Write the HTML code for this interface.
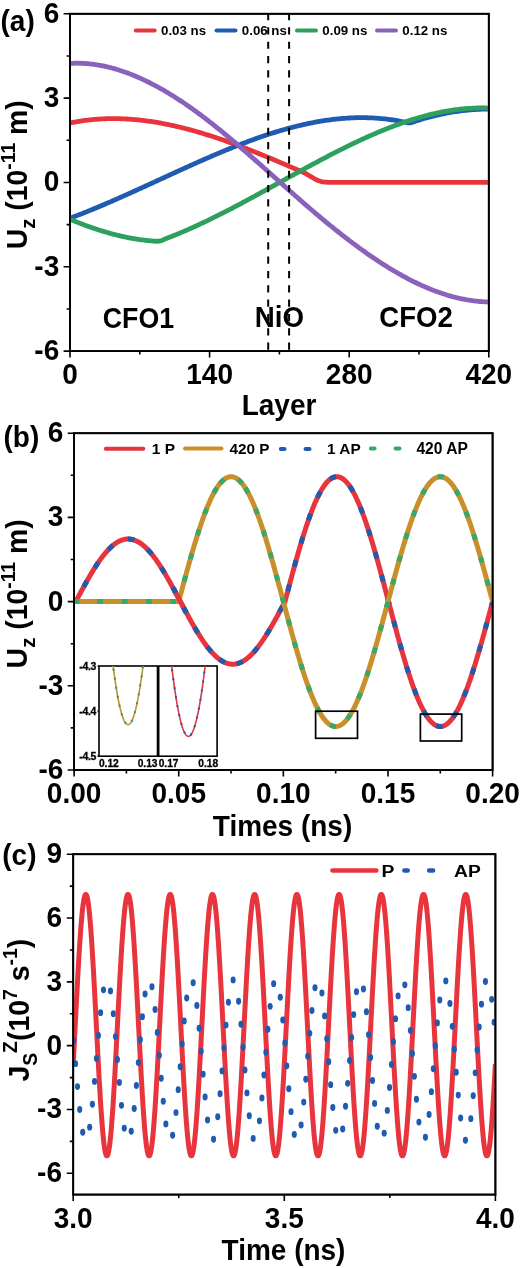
<!DOCTYPE html>
<html><head><meta charset="utf-8"><title>Figure</title>
<style>html,body{margin:0;padding:0;background:#fff;width:520px;height:1268px;overflow:hidden} svg{display:block}</style>
</head><body>
<svg width="520" height="1268" viewBox="0 0 520 1268" font-family="'Liberation Sans', sans-serif" font-weight="bold">
<rect width="520" height="1268" fill="#fff"/>
<rect x="70" y="13.8" width="418.8" height="337.3" fill="none" stroke="#000" stroke-width="1.8"/>
<path d="M70,351.1v6.4M209.6,351.1v6.4M349.2,351.1v6.4M488.8,351.1v6.4M139.8,351.1v3.4M279.4,351.1v3.4M419,351.1v3.4M70,351.1h-6.4M70,266.78h-6.4M70,182.45h-6.4M70,98.13h-6.4M70,13.8h-6.4M70,308.94h-3.4M70,224.61h-3.4M70,140.29h-3.4M70,55.96h-3.4" stroke="#000" stroke-width="1.6" fill="none"/>
<text transform="translate(59.2,360) scale(1.0,1.08)" font-size="28" text-anchor="end" >-6</text>
<text transform="translate(59.2,275.68) scale(1.0,1.08)" font-size="28" text-anchor="end" >-3</text>
<text transform="translate(59.2,191.35) scale(1.0,1.08)" font-size="28" text-anchor="end" >0</text>
<text transform="translate(59.2,107.03) scale(1.0,1.08)" font-size="28" text-anchor="end" >3</text>
<text transform="translate(59.2,22.7) scale(1.0,1.08)" font-size="28" text-anchor="end" >6</text>
<text transform="translate(70,384.2) scale(1.0,1.08)" font-size="28" text-anchor="middle" >0</text>
<text transform="translate(209.6,384.2) scale(1.0,1.08)" font-size="28" text-anchor="middle" >140</text>
<text transform="translate(349.2,384.2) scale(1.0,1.08)" font-size="28" text-anchor="middle" >280</text>
<text transform="translate(488.8,384.2) scale(1.0,1.08)" font-size="28" text-anchor="middle" >420</text>
<text transform="translate(279,415) scale(1.0,1.06)" font-size="28" text-anchor="middle" >Layer</text>
<text transform="translate(0.5,30.6) scale(1.0,1.04)" font-size="28" text-anchor="start" >(a)</text>
<text transform="translate(102.8,328.4) scale(0.955,1.075)" font-size="28" text-anchor="start" >CFO1</text>
<text transform="translate(254.7,327) scale(0.99,1.065)" font-size="28" text-anchor="start" >NiO</text>
<text transform="translate(379.3,326.9) scale(0.985,1.05)" font-size="28" text-anchor="start" >CFO2</text>
<text transform="translate(27.2,249.3) rotate(-90) scale(1.015,1.05)" font-size="28">U<tspan font-size="20" dy="7.8">z</tspan><tspan dy="-7.8"> (10</tspan><tspan font-size="19" dy="-11.8">-11</tspan><tspan dy="11.8"> m)</tspan></text>
<g clip-path="url(#clipA)">
<path d="M70,123.01 L71.49,122.7 L72.99,122.41 L74.48,122.13 L75.98,121.86 L77.47,121.6 L78.96,121.35 L80.46,121.11 L81.95,120.89 L83.44,120.67 L84.94,120.47 L86.43,120.28 L87.93,120.1 L89.42,119.93 L90.91,119.77 L92.41,119.62 L93.9,119.48 L95.4,119.36 L96.89,119.24 L98.38,119.14 L99.88,119.04 L101.37,118.96 L102.86,118.88 L104.36,118.82 L105.85,118.76 L107.35,118.72 L108.84,118.68 L110.33,118.66 L111.83,118.64 L113.32,118.64 L114.81,118.64 L116.31,118.66 L117.8,118.68 L119.3,118.72 L120.79,118.76 L122.28,118.81 L123.78,118.87 L125.27,118.94 L126.77,119.02 L128.26,119.11 L129.75,119.21 L131.25,119.32 L132.74,119.43 L134.23,119.56 L135.73,119.69 L137.22,119.83 L138.72,119.98 L140.21,120.14 L141.7,120.31 L143.2,120.48 L144.69,120.67 L146.19,120.86 L147.68,121.06 L149.17,121.27 L150.67,121.48 L152.16,121.71 L153.65,121.94 L155.15,122.18 L156.64,122.43 L158.14,122.68 L159.63,122.94 L161.12,123.21 L162.62,123.49 L164.11,123.77 L165.6,124.07 L167.1,124.36 L168.59,124.67 L170.09,124.98 L171.58,125.3 L173.07,125.63 L174.57,125.96 L176.06,126.3 L177.56,126.65 L179.05,127.01 L180.54,127.37 L182.04,127.73 L183.53,128.11 L185.02,128.49 L186.52,128.87 L188.01,129.26 L189.51,129.66 L191,130.06 L192.49,130.47 L193.99,130.89 L195.48,131.31 L196.98,131.74 L198.47,132.17 L199.96,132.61 L201.46,133.06 L202.95,133.5 L204.44,133.96 L205.94,134.42 L207.43,134.89 L208.93,135.36 L210.42,135.83 L211.91,136.31 L213.41,136.8 L214.9,137.29 L216.4,137.78 L217.89,138.28 L219.38,138.79 L220.88,139.3 L222.37,139.81 L223.86,140.33 L225.36,140.85 L226.85,141.38 L228.35,141.91 L229.84,142.45 L231.33,142.99 L232.83,143.53 L234.32,144.08 L235.81,144.63 L237.31,145.18 L238.8,145.74 L240.3,146.3 L241.79,146.87 L243.28,147.44 L244.78,148.01 L246.27,148.59 L247.77,149.17 L249.26,149.75 L250.75,150.34 L252.25,150.93 L253.74,151.52 L255.23,152.11 L256.73,152.71 L258.22,153.31 L259.72,153.92 L261.21,154.52 L262.7,155.13 L264.2,155.74 L265.69,156.35 L267.19,156.97 L268.68,157.59 L270.17,158.21 L271.67,158.83 L273.16,159.46 L274.65,160.08 L276.15,160.71 L277.64,161.34 L279.14,161.97 L280.63,162.61 L282.12,163.24 L283.62,163.88 L285.11,164.52 L286.6,165.16 L288.1,165.8 L289.59,166.44 L291.09,167.09 L292.58,167.73 L294.07,168.38 L295.57,169.02 L297.06,169.67 L298.56,170.32 L300.05,170.97 L301.54,171.62 L303.04,172.27 L304.53,172.92 L305.98,173.77 L307.43,174.63 L308.89,175.48 L310.34,176.33 L311.79,177.18 L313.24,178.04 L314.69,178.89 L315.77,179.48 L316.91,180.02 L318.09,180.5 L319.32,180.92 L320.6,181.29 L321.94,181.6 L323.32,181.85 L324.75,182.05 L326.24,182.19 L327.77,182.27 L329.36,182.3 L338.22,182.3 L347.07,182.3 L355.93,182.3 L364.79,182.3 L373.65,182.3 L382.51,182.3 L391.36,182.3 L400.22,182.3 L409.08,182.3 L417.94,182.3 L426.79,182.3 L435.65,182.3 L444.51,182.3 L453.37,182.3 L462.23,182.3 L471.08,182.3 L479.94,182.3 L488.8,182.3" fill="none" stroke="#E8343C" stroke-width="4.8" stroke-linejoin="round" />
<path d="M70,218.21 L71.49,217.65 L72.99,217.09 L74.48,216.53 L75.98,215.96 L77.47,215.38 L78.97,214.81 L80.46,214.22 L81.95,213.64 L83.45,213.05 L84.94,212.45 L86.44,211.86 L87.93,211.26 L89.43,210.65 L90.92,210.04 L92.41,209.43 L93.91,208.82 L95.4,208.2 L96.9,207.58 L98.39,206.95 L99.89,206.32 L101.38,205.69 L102.87,205.06 L104.37,204.42 L105.86,203.79 L107.36,203.14 L108.85,202.5 L110.35,201.85 L111.84,201.2 L113.33,200.55 L114.83,199.9 L116.32,199.24 L117.82,198.58 L119.31,197.92 L120.81,197.26 L122.3,196.6 L123.79,195.93 L125.29,195.26 L126.78,194.59 L128.28,193.92 L129.77,193.25 L131.27,192.57 L132.76,191.9 L134.25,191.22 L135.75,190.54 L137.24,189.86 L138.74,189.18 L140.23,188.5 L141.73,187.82 L143.22,187.14 L144.71,186.45 L146.21,185.77 L147.7,185.08 L149.2,184.4 L150.69,183.71 L152.19,183.02 L153.68,182.33 L155.18,181.65 L156.67,180.96 L158.16,180.27 L159.66,179.58 L161.15,178.89 L162.65,178.21 L164.14,177.52 L165.64,176.83 L167.13,176.14 L168.62,175.46 L170.12,174.77 L171.61,174.09 L173.11,173.4 L174.6,172.72 L176.1,172.03 L177.59,171.35 L179.08,170.67 L180.58,169.99 L182.07,169.31 L183.57,168.63 L185.06,167.95 L186.56,167.27 L188.05,166.6 L189.54,165.93 L191.04,165.25 L192.53,164.58 L194.03,163.91 L195.52,163.25 L197.02,162.58 L198.51,161.92 L200,161.26 L201.5,160.6 L202.99,159.94 L204.49,159.29 L205.98,158.64 L207.48,157.99 L208.97,157.34 L210.46,156.69 L211.96,156.05 L213.45,155.41 L214.95,154.77 L216.44,154.14 L217.94,153.51 L219.43,152.88 L220.92,152.25 L222.42,151.63 L223.91,151.01 L225.41,150.39 L226.9,149.78 L228.4,149.17 L229.89,148.57 L231.38,147.96 L232.88,147.36 L234.37,146.77 L235.87,146.18 L237.36,145.59 L238.86,145.01 L240.35,144.43 L241.84,143.85 L243.34,143.28 L244.83,142.71 L246.33,142.15 L247.82,141.59 L249.32,141.04 L250.81,140.49 L252.3,139.94 L253.8,139.4 L255.29,138.87 L256.79,138.34 L258.28,137.81 L259.78,137.29 L261.27,136.78 L262.76,136.27 L264.26,135.76 L265.75,135.26 L267.25,134.77 L268.74,134.28 L270.24,133.79 L271.73,133.31 L273.22,132.84 L274.72,132.37 L276.21,131.91 L277.71,131.46 L279.2,131.01 L280.7,130.57 L282.19,130.13 L283.68,129.7 L285.18,129.27 L286.67,128.85 L288.17,128.44 L289.66,128.04 L291.16,127.64 L292.65,127.25 L294.14,126.86 L295.64,126.48 L297.13,126.11 L298.63,125.74 L300.12,125.39 L301.62,125.04 L303.11,124.69 L304.6,124.35 L306.1,124.03 L307.59,123.7 L309.09,123.39 L310.58,123.08 L312.08,122.78 L313.57,122.49 L315.06,122.21 L316.56,121.93 L318.05,121.66 L319.55,121.4 L321.04,121.15 L322.54,120.91 L324.03,120.67 L325.52,120.44 L327.02,120.22 L328.51,120.01 L330.01,119.81 L331.5,119.62 L333,119.43 L334.49,119.25 L335.99,119.09 L337.48,118.93 L338.97,118.78 L340.47,118.64 L341.96,118.51 L343.46,118.38 L344.95,118.27 L346.45,118.17 L347.94,118.07 L349.43,117.99 L350.93,117.91 L352.42,117.84 L353.92,117.79 L355.41,117.74 L356.91,117.71 L358.4,117.68 L359.89,117.66 L361.39,117.66 L362.88,117.66 L364.38,117.67 L365.87,117.7 L367.37,117.73 L368.86,117.78 L370.35,117.83 L371.85,117.9 L373.34,117.97 L374.84,118.06 L376.33,118.16 L377.83,118.27 L379.32,118.39 L380.81,118.52 L382.31,118.66 L383.8,118.82 L385.3,118.98 L386.79,119.16 L388.29,119.34 L389.78,119.54 L391.27,119.75 L392.77,119.98 L394.26,120.21 L395.76,120.46 L397.25,120.71 L398.75,120.98 L400.24,121.27 L401.73,121.56 L403.23,121.87 L404.72,122.18 L406.22,122.51 L407.03,122.68 L407.85,122.79 L408.66,122.85 L409.47,122.85 L410.28,122.79 L411.09,122.68 L411.9,122.52 L412.7,122.3 L413.51,122.03 L414.32,121.7 L415.12,121.31 L416.59,120.83 L418.07,120.36 L419.54,119.9 L421.02,119.45 L422.49,119 L423.96,118.57 L425.44,118.15 L426.91,117.74 L428.38,117.34 L429.86,116.94 L431.33,116.56 L432.8,116.19 L434.28,115.82 L435.75,115.47 L437.22,115.13 L438.7,114.79 L440.17,114.47 L441.65,114.15 L443.12,113.85 L444.59,113.55 L446.07,113.26 L447.54,112.99 L449.01,112.72 L450.49,112.46 L451.96,112.21 L453.43,111.97 L454.91,111.74 L456.38,111.52 L457.85,111.31 L459.33,111.11 L460.8,110.92 L462.28,110.74 L463.75,110.56 L465.22,110.4 L466.7,110.24 L468.17,110.1 L469.64,109.96 L471.12,109.83 L472.59,109.71 L474.06,109.61 L475.54,109.51 L477.01,109.41 L478.48,109.33 L479.96,109.26 L481.43,109.2 L482.91,109.14 L484.38,109.1 L485.85,109.06 L487.33,109.03 L488.8,109.01" fill="none" stroke="#1F5BB0" stroke-width="4.8" stroke-linejoin="round" />
<path d="M70,219.25 L71.48,219.87 L72.97,220.49 L74.45,221.09 L75.93,221.69 L77.42,222.28 L78.9,222.87 L80.39,223.45 L81.87,224.02 L83.35,224.58 L84.84,225.13 L86.32,225.68 L87.8,226.22 L89.29,226.75 L90.77,227.27 L92.25,227.79 L93.74,228.29 L95.22,228.79 L96.7,229.28 L98.19,229.77 L99.67,230.24 L101.16,230.71 L102.64,231.16 L104.12,231.61 L105.61,232.05 L107.09,232.48 L108.57,232.9 L110.06,233.32 L111.54,233.72 L113.02,234.11 L114.51,234.5 L115.99,234.88 L117.48,235.24 L118.96,235.6 L120.44,235.95 L121.93,236.29 L123.41,236.62 L124.89,236.93 L126.38,237.24 L127.86,237.54 L129.34,237.83 L130.83,238.11 L132.31,238.38 L133.8,238.64 L135.28,238.89 L136.76,239.13 L138.25,239.35 L139.73,239.57 L141.21,239.78 L142.7,239.97 L144.18,240.16 L145.66,240.33 L147.15,240.5 L148.63,240.65 L150.11,240.79 L151.6,240.92 L153.08,241.04 L154.57,241.15 L156.05,241.24 L156.86,241.26 L157.67,241.24 L158.48,241.16 L159.29,241.05 L160.1,240.89 L160.92,240.68 L161.73,240.44 L162.55,240.14 L163.36,239.8 L164.18,239.42 L165,239 L166.5,238.43 L168,237.86 L169.49,237.28 L170.99,236.69 L172.49,236.1 L173.99,235.5 L175.49,234.89 L176.99,234.28 L178.49,233.66 L179.99,233.04 L181.49,232.41 L182.99,231.77 L184.49,231.13 L185.98,230.48 L187.48,229.83 L188.98,229.17 L190.48,228.5 L191.98,227.83 L193.48,227.16 L194.98,226.47 L196.48,225.79 L197.98,225.1 L199.48,224.4 L200.98,223.7 L202.47,222.99 L203.97,222.28 L205.47,221.57 L206.97,220.85 L208.47,220.13 L209.97,219.4 L211.47,218.66 L212.97,217.93 L214.47,217.19 L215.97,216.44 L217.47,215.69 L218.96,214.94 L220.46,214.19 L221.96,213.43 L223.46,212.66 L224.96,211.9 L226.46,211.13 L227.96,210.35 L229.46,209.58 L230.96,208.8 L232.46,208.02 L233.96,207.23 L235.45,206.44 L236.95,205.65 L238.45,204.86 L239.95,204.07 L241.45,203.27 L242.95,202.47 L244.45,201.66 L245.95,200.86 L247.45,200.05 L248.95,199.25 L250.45,198.43 L251.94,197.62 L253.44,196.81 L254.94,195.99 L256.44,195.18 L257.94,194.36 L259.44,193.54 L260.94,192.72 L262.44,191.9 L263.94,191.07 L265.44,190.25 L266.94,189.42 L268.43,188.6 L269.93,187.77 L271.43,186.94 L272.93,186.12 L274.43,185.29 L275.93,184.46 L277.43,183.63 L278.93,182.8 L280.43,181.98 L281.93,181.15 L283.43,180.32 L284.92,179.49 L286.42,178.66 L287.92,177.84 L289.42,177.01 L290.92,176.18 L292.42,175.36 L293.92,174.53 L295.42,173.71 L296.92,172.89 L298.42,172.06 L299.92,171.24 L301.41,170.42 L302.91,169.6 L304.41,168.79 L305.91,167.97 L307.41,167.16 L308.91,166.35 L310.41,165.54 L311.91,164.73 L313.41,163.92 L314.91,163.12 L316.41,162.32 L317.9,161.52 L319.4,160.72 L320.9,159.92 L322.4,159.13 L323.9,158.34 L325.4,157.55 L326.9,156.77 L328.4,155.99 L329.9,155.21 L331.4,154.43 L332.89,153.66 L334.39,152.89 L335.89,152.13 L337.39,151.36 L338.89,150.6 L340.39,149.85 L341.89,149.1 L343.39,148.35 L344.89,147.6 L346.39,146.86 L347.89,146.13 L349.38,145.4 L350.88,144.67 L352.38,143.95 L353.88,143.23 L355.38,142.51 L356.88,141.8 L358.38,141.1 L359.88,140.4 L361.38,139.7 L362.88,139.01 L364.38,138.33 L365.87,137.65 L367.37,136.97 L368.87,136.3 L370.37,135.64 L371.87,134.98 L373.37,134.33 L374.87,133.68 L376.37,133.04 L377.87,132.4 L379.37,131.77 L380.87,131.15 L382.36,130.53 L383.86,129.92 L385.36,129.32 L386.86,128.72 L388.36,128.12 L389.86,127.54 L391.36,126.96 L392.86,126.39 L394.36,125.82 L395.86,125.27 L397.36,124.72 L398.85,124.17 L400.35,123.64 L401.85,123.11 L403.35,122.58 L404.85,122.07 L406.35,121.56 L407.85,121.06 L409.35,120.57 L410.85,120.09 L412.35,119.62 L413.85,119.15 L415.34,118.69 L416.84,118.24 L418.34,117.8 L419.84,117.36 L421.34,116.94 L422.84,116.52 L424.34,116.11 L425.84,115.71 L427.34,115.32 L428.84,114.94 L430.34,114.57 L431.83,114.2 L433.33,113.85 L434.83,113.51 L436.33,113.17 L437.83,112.85 L439.33,112.53 L440.83,112.22 L442.33,111.93 L443.83,111.64 L445.33,111.36 L446.83,111.1 L448.32,110.84 L449.82,110.59 L451.32,110.36 L452.82,110.13 L454.32,109.92 L455.82,109.71 L457.32,109.52 L458.82,109.34 L460.32,109.16 L461.82,109 L463.32,108.85 L464.81,108.72 L466.31,108.59 L467.81,108.47 L469.31,108.37 L470.81,108.27 L472.31,108.19 L473.81,108.12 L475.31,108.07 L476.81,108.02 L478.31,107.99 L479.81,107.96 L481.3,107.95 L482.8,107.96 L484.3,107.97 L485.8,108 L487.3,108.04 L488.8,108.09" fill="none" stroke="#2EA05E" stroke-width="4.8" stroke-linejoin="round" />
<path d="M70,63.41 L71.5,63.33 L72.99,63.28 L74.49,63.24 L75.98,63.22 L77.48,63.22 L78.97,63.24 L80.47,63.27 L81.97,63.33 L83.46,63.4 L84.96,63.49 L86.45,63.6 L87.95,63.72 L89.44,63.86 L90.94,64.02 L92.44,64.2 L93.93,64.39 L95.43,64.6 L96.92,64.83 L98.42,65.08 L99.91,65.34 L101.41,65.62 L102.91,65.91 L104.4,66.22 L105.9,66.55 L107.39,66.89 L108.89,67.25 L110.38,67.62 L111.88,68.01 L113.38,68.42 L114.87,68.84 L116.37,69.27 L117.86,69.72 L119.36,70.19 L120.85,70.67 L122.35,71.17 L123.85,71.68 L125.34,72.21 L126.84,72.75 L128.33,73.3 L129.83,73.87 L131.32,74.45 L132.82,75.05 L134.32,75.66 L135.81,76.28 L137.31,76.92 L138.8,77.58 L140.3,78.24 L141.79,78.92 L143.29,79.61 L144.79,80.32 L146.28,81.04 L147.78,81.77 L149.27,82.51 L150.77,83.27 L152.26,84.04 L153.76,84.82 L155.26,85.61 L156.75,86.42 L158.25,87.24 L159.74,88.07 L161.24,88.91 L162.73,89.76 L164.23,90.63 L165.73,91.5 L167.22,92.39 L168.72,93.29 L170.21,94.2 L171.71,95.12 L173.2,96.05 L174.7,97 L176.2,97.95 L177.69,98.91 L179.19,99.89 L180.68,100.87 L182.18,101.87 L183.67,102.87 L185.17,103.89 L186.67,104.92 L188.16,105.95 L189.66,106.99 L191.15,108.05 L192.65,109.11 L194.14,110.18 L195.64,111.27 L197.14,112.36 L198.63,113.46 L200.13,114.56 L201.62,115.68 L203.12,116.81 L204.61,117.94 L206.11,119.08 L207.61,120.23 L209.1,121.39 L210.6,122.56 L212.09,123.73 L213.59,124.92 L215.08,126.11 L216.58,127.3 L218.08,128.51 L219.57,129.72 L221.07,130.93 L222.56,132.16 L224.06,133.39 L225.55,134.62 L227.05,135.87 L228.55,137.11 L230.04,138.37 L231.54,139.63 L233.03,140.89 L234.53,142.16 L236.02,143.43 L237.52,144.71 L239.02,145.99 L240.51,147.28 L242.01,148.57 L243.5,149.87 L245,151.17 L246.49,152.47 L247.99,153.77 L249.49,155.08 L250.98,156.4 L252.48,157.71 L253.97,159.03 L255.47,160.35 L256.96,161.67 L258.46,162.99 L259.96,164.32 L261.45,165.65 L262.95,166.98 L264.44,168.31 L265.94,169.64 L267.43,170.97 L268.93,172.31 L270.43,173.64 L271.92,174.98 L273.42,176.31 L274.91,177.65 L276.41,178.98 L277.9,180.32 L279.4,181.65 L280.9,182.98 L282.39,184.32 L283.89,185.65 L285.38,186.98 L286.88,188.31 L288.37,189.63 L289.87,190.96 L291.37,192.28 L292.86,193.61 L294.36,194.93 L295.85,196.24 L297.35,197.56 L298.84,198.87 L300.34,200.18 L301.84,201.48 L303.33,202.78 L304.83,204.08 L306.32,205.37 L307.82,206.66 L309.31,207.95 L310.81,209.23 L312.31,210.51 L313.8,211.79 L315.3,213.06 L316.79,214.32 L318.29,215.58 L319.78,216.84 L321.28,218.09 L322.78,219.34 L324.27,220.58 L325.77,221.81 L327.26,223.04 L328.76,224.27 L330.25,225.49 L331.75,226.7 L333.25,227.91 L334.74,229.12 L336.24,230.31 L337.73,231.5 L339.23,232.69 L340.72,233.87 L342.22,235.04 L343.72,236.21 L345.21,237.37 L346.71,238.52 L348.2,239.67 L349.7,240.81 L351.19,241.94 L352.69,243.07 L354.19,244.18 L355.68,245.29 L357.18,246.4 L358.67,247.49 L360.17,248.58 L361.66,249.66 L363.16,250.74 L364.66,251.8 L366.15,252.86 L367.65,253.91 L369.14,254.95 L370.64,255.98 L372.13,257.01 L373.63,258.02 L375.13,259.03 L376.62,260.03 L378.12,261.01 L379.61,261.99 L381.11,262.97 L382.6,263.93 L384.1,264.88 L385.6,265.82 L387.09,266.76 L388.59,267.68 L390.08,268.59 L391.58,269.5 L393.07,270.39 L394.57,271.28 L396.07,272.15 L397.56,273.01 L399.06,273.87 L400.55,274.71 L402.05,275.54 L403.54,276.36 L405.04,277.17 L406.54,277.97 L408.03,278.76 L409.53,279.54 L411.02,280.3 L412.52,281.06 L414.01,281.8 L415.51,282.53 L417.01,283.25 L418.5,283.96 L420,284.66 L421.49,285.34 L422.99,286.01 L424.48,286.67 L425.98,287.32 L427.48,287.96 L428.97,288.58 L430.47,289.19 L431.96,289.79 L433.46,290.37 L434.95,290.94 L436.45,291.5 L437.95,292.04 L439.44,292.57 L440.94,293.09 L442.43,293.6 L443.93,294.09 L445.42,294.56 L446.92,295.03 L448.42,295.48 L449.91,295.91 L451.41,296.33 L452.9,296.74 L454.4,297.13 L455.89,297.51 L457.39,297.87 L458.89,298.22 L460.38,298.56 L461.88,298.87 L463.37,299.18 L464.87,299.47 L466.36,299.74 L467.86,300 L469.36,300.24 L470.85,300.47 L472.35,300.68 L473.84,300.87 L475.34,301.05 L476.83,301.22 L478.33,301.36 L479.83,301.49 L481.32,301.61 L482.82,301.71 L484.31,301.79 L485.81,301.85 L487.3,301.9 L488.8,301.93" fill="none" stroke="#8A62BC" stroke-width="4.8" stroke-linejoin="round" />
</g>
<line x1="268.2" y1="13.0" x2="268.2" y2="351.1" stroke="#000" stroke-width="2" stroke-dasharray="7.2 7.13"/>
<line x1="289.1" y1="13.0" x2="289.1" y2="351.1" stroke="#000" stroke-width="2" stroke-dasharray="7.2 7.13"/>
<rect x="70" y="13.8" width="418.8" height="337.3" fill="none" stroke="#000" stroke-width="1.8"/>
<clipPath id="clipA"><rect x="70" y="13.8" width="418.8" height="337.3"/></clipPath>
<line x1="135.7" y1="30.5" x2="154.7" y2="30.5" stroke="#E8343C" stroke-width="3.9" stroke-linecap="round"/>
<text transform="translate(161,34.8) scale(1.0,1.0)" font-size="13.3" text-anchor="start" >0.03 ns</text>
<line x1="216.5" y1="30.5" x2="235.5" y2="30.5" stroke="#1F5BB0" stroke-width="3.9" stroke-linecap="round"/>
<text transform="translate(241.8,34.8) scale(1.0,1.0)" font-size="13.3" text-anchor="start" >0.06 ns</text>
<line x1="297" y1="30.5" x2="316" y2="30.5" stroke="#2EA05E" stroke-width="3.9" stroke-linecap="round"/>
<text transform="translate(322.3,34.8) scale(1.0,1.0)" font-size="13.3" text-anchor="start" >0.09 ns</text>
<line x1="377" y1="30.5" x2="396" y2="30.5" stroke="#8A62BC" stroke-width="3.9" stroke-linecap="round"/>
<text transform="translate(402.3,34.8) scale(1.0,1.0)" font-size="13.3" text-anchor="start" >0.12 ns</text>
<rect x="74.1" y="433.2" width="418.5" height="336.8" fill="none" stroke="#000" stroke-width="1.8"/>
<path d="M74.1,770v6.4M178.72,770v6.4M283.35,770v6.4M387.98,770v6.4M492.6,770v6.4M126.41,770v3.4M231.04,770v3.4M335.66,770v3.4M440.29,770v3.4M74.1,770h-6.4M74.1,685.8h-6.4M74.1,601.6h-6.4M74.1,517.4h-6.4M74.1,433.2h-6.4M74.1,727.9h-3.4M74.1,643.7h-3.4M74.1,559.5h-3.4M74.1,475.3h-3.4" stroke="#000" stroke-width="1.6" fill="none"/>
<text transform="translate(63.4,778.9) scale(1.0,1.08)" font-size="28" text-anchor="end" >-6</text>
<text transform="translate(63.4,694.7) scale(1.0,1.08)" font-size="28" text-anchor="end" >-3</text>
<text transform="translate(63.4,610.5) scale(1.0,1.08)" font-size="28" text-anchor="end" >0</text>
<text transform="translate(63.4,526.3) scale(1.0,1.08)" font-size="28" text-anchor="end" >3</text>
<text transform="translate(63.4,442.1) scale(1.0,1.08)" font-size="28" text-anchor="end" >6</text>
<text transform="translate(74.1,803.3) scale(1.0,1.08)" font-size="28" text-anchor="middle" >0.00</text>
<text transform="translate(178.72,803.3) scale(1.0,1.08)" font-size="28" text-anchor="middle" >0.05</text>
<text transform="translate(283.35,803.3) scale(1.0,1.08)" font-size="28" text-anchor="middle" >0.10</text>
<text transform="translate(387.98,803.3) scale(1.0,1.08)" font-size="28" text-anchor="middle" >0.15</text>
<text transform="translate(492.6,803.3) scale(1.0,1.08)" font-size="28" text-anchor="middle" >0.20</text>
<text transform="translate(282.5,836.2) scale(1.0,1.05)" font-size="28" text-anchor="middle" >Times (ns)</text>
<text transform="translate(3.5,447.4) scale(1.0,1.04)" font-size="28" text-anchor="start" >(b)</text>
<text transform="translate(27.2,668.4) rotate(-90) scale(1.015,1.05)" font-size="28">U<tspan font-size="20" dy="7.8">z</tspan><tspan dy="-7.8"> (10</tspan><tspan font-size="19" dy="-11.8">-11</tspan><tspan dy="11.8"> m)</tspan></text>
<g clip-path="url(#clipB)">
<path d="M74.1,601.6 L74.62,601.6 L75.15,601.6 L75.67,601.6 L75.77,601.6 L76.19,600.81 L76.72,599.83 L77.24,598.85 L77.76,597.87 L78.28,596.89 L78.81,595.91 L79.33,594.93 L79.85,593.95 L80.38,592.98 L80.9,592 L81.42,591.03 L81.95,590.07 L82.47,589.1 L82.99,588.14 L83.52,587.18 L84.04,586.23 L84.56,585.27 L85.09,584.33 L85.61,583.38 L86.13,582.45 L86.66,581.51 L87.18,580.58 L87.7,579.66 L88.22,578.74 L88.75,577.83 L89.27,576.92 L89.79,576.02 L90.32,575.13 L90.84,574.24 L91.36,573.36 L91.89,572.49 L92.41,571.62 L92.93,570.76 L93.46,569.91 L93.98,569.07 L94.5,568.23 L95.02,567.4 L95.55,566.58 L96.07,565.77 L96.59,564.97 L97.12,564.18 L97.64,563.39 L98.16,562.62 L98.69,561.86 L99.21,561.1 L99.73,560.36 L100.26,559.62 L100.78,558.9 L101.3,558.19 L101.83,557.48 L102.35,556.79 L102.87,556.11 L103.39,555.44 L103.92,554.78 L104.44,554.14 L104.96,553.5 L105.49,552.88 L106.01,552.27 L106.53,551.67 L107.06,551.08 L107.58,550.51 L108.1,549.94 L108.63,549.4 L109.15,548.86 L109.67,548.34 L110.2,547.83 L110.72,547.33 L111.24,546.85 L111.77,546.38 L112.29,545.92 L112.81,545.48 L113.33,545.05 L113.86,544.64 L114.38,544.24 L114.9,543.85 L115.43,543.48 L115.95,543.12 L116.47,542.78 L117,542.45 L117.52,542.14 L118.04,541.84 L118.57,541.55 L119.09,541.28 L119.61,541.03 L120.13,540.79 L120.66,540.56 L121.18,540.35 L121.7,540.16 L122.23,539.98 L122.75,539.81 L123.27,539.66 L123.8,539.53 L124.32,539.41 L124.84,539.31 L125.37,539.22 L125.89,539.15 L126.41,539.09 L126.94,539.05 L127.46,539.02 L127.98,539.01 L128.5,539.02 L129.03,539.04 L129.55,539.07 L130.07,539.12 L130.6,539.19 L131.12,539.27 L131.64,539.37 L132.17,539.48 L132.69,539.61 L133.21,539.75 L133.74,539.91 L134.26,540.08 L134.78,540.27 L135.31,540.48 L135.83,540.7 L136.35,540.93 L136.88,541.18 L137.4,541.44 L137.92,541.72 L138.44,542.01 L138.97,542.32 L139.49,542.65 L140.01,542.98 L140.54,543.33 L141.06,543.7 L141.58,544.08 L142.11,544.48 L142.63,544.88 L143.15,545.31 L143.68,545.74 L144.2,546.19 L144.72,546.66 L145.25,547.14 L145.77,547.63 L146.29,548.13 L146.81,548.65 L147.34,549.18 L147.86,549.72 L148.38,550.28 L148.91,550.85 L149.43,551.43 L149.95,552.02 L150.48,552.63 L151,553.25 L151.52,553.88 L152.05,554.52 L152.57,555.18 L153.09,555.84 L153.62,556.52 L154.14,557.2 L154.66,557.9 L155.18,558.61 L155.71,559.33 L156.23,560.06 L156.75,560.8 L157.28,561.55 L157.8,562.31 L158.32,563.08 L158.85,563.86 L159.37,564.65 L159.89,565.45 L160.42,566.26 L160.94,567.07 L161.46,567.9 L161.99,568.73 L162.51,569.57 L163.03,570.42 L163.55,571.28 L164.08,572.14 L164.6,573.01 L165.12,573.89 L165.65,574.77 L166.17,575.66 L166.69,576.56 L167.22,577.47 L167.74,578.38 L168.26,579.29 L168.79,580.21 L169.31,581.14 L169.83,582.07 L170.35,583.01 L170.88,583.95 L171.4,584.89 L171.92,585.84 L172.45,586.8 L172.97,587.75 L173.49,588.72 L174.02,589.68 L174.54,590.65 L175.06,591.61 L175.59,592.59 L176.11,593.56 L176.63,594.54 L177.16,595.51 L177.68,596.49 L178.2,597.47 L178.72,598.46 L178.72,598.46 L179.25,599.44 L179.77,600.42 L180.29,601.4 L180.82,602.39 L181.34,603.37 L181.86,604.35 L182.39,605.33 L182.91,606.31 L183.43,607.29 L183.96,608.27 L184.48,609.25 L185,610.22 L185.53,611.2 L186.05,612.17 L186.57,613.13 L187.09,614.1 L187.62,615.06 L188.14,616.02 L188.66,616.97 L189.19,617.93 L189.71,618.87 L190.23,619.82 L190.76,620.75 L191.28,621.69 L191.8,622.62 L192.33,623.54 L192.85,624.46 L193.37,625.37 L193.9,626.28 L194.42,627.18 L194.94,628.07 L195.46,628.96 L195.99,629.84 L196.51,630.71 L197.03,631.58 L197.56,632.44 L198.08,633.29 L198.6,634.13 L199.13,634.97 L199.65,635.8 L200.17,636.62 L200.7,637.43 L201.22,638.23 L201.74,639.02 L202.27,639.81 L202.79,640.58 L203.31,641.34 L203.83,642.1 L204.36,642.84 L204.88,643.58 L205.4,644.3 L205.93,645.01 L206.45,645.72 L206.97,646.41 L207.5,647.09 L208.02,647.76 L208.54,648.42 L209.07,649.06 L209.59,649.7 L210.11,650.32 L210.64,650.93 L211.16,651.53 L211.68,652.12 L212.2,652.69 L212.73,653.26 L213.25,653.8 L213.77,654.34 L214.3,654.86 L214.82,655.37 L215.34,655.87 L215.87,656.35 L216.39,656.82 L216.91,657.28 L217.44,657.72 L217.96,658.15 L218.48,658.56 L219.01,658.96 L219.53,659.35 L220.05,659.72 L220.57,660.08 L221.1,660.42 L221.62,660.75 L222.14,661.06 L222.67,661.36 L223.19,661.65 L223.71,661.92 L224.24,662.17 L224.76,662.41 L225.28,662.64 L225.81,662.85 L226.33,663.04 L226.85,663.22 L227.38,663.39 L227.9,663.54 L228.42,663.67 L228.94,663.79 L229.47,663.89 L229.99,663.98 L230.51,664.05 L231.04,664.11 L231.56,664.15 L232.08,664.18 L232.61,664.19 L233.13,664.18 L233.65,664.16 L234.18,664.13 L234.7,664.08 L235.22,664.01 L235.75,663.93 L236.27,663.83 L236.79,663.72 L237.31,663.59 L237.84,663.45 L238.36,663.29 L238.88,663.12 L239.41,662.93 L239.93,662.72 L240.45,662.5 L240.98,662.27 L241.5,662.02 L242.02,661.76 L242.55,661.48 L243.07,661.19 L243.59,660.88 L244.12,660.55 L244.64,660.22 L245.16,659.87 L245.68,659.5 L246.21,659.12 L246.73,658.72 L247.25,658.32 L247.78,657.89 L248.3,657.46 L248.82,657.01 L249.35,656.54 L249.87,656.06 L250.39,655.57 L250.92,655.07 L251.44,654.55 L251.96,654.02 L252.49,653.48 L253.01,652.92 L253.53,652.35 L254.05,651.77 L254.58,651.18 L255.1,650.57 L255.62,649.95 L256.15,649.32 L256.67,648.68 L257.19,648.02 L257.72,647.36 L258.24,646.68 L258.76,646 L259.29,645.3 L259.81,644.59 L260.33,643.87 L260.86,643.14 L261.38,642.4 L261.9,641.65 L262.42,640.89 L262.95,640.12 L263.47,639.34 L263.99,638.55 L264.52,637.75 L265.04,636.94 L265.56,636.13 L266.09,635.3 L266.61,634.47 L267.13,633.63 L267.66,632.78 L268.18,631.92 L268.7,631.06 L269.23,630.19 L269.75,629.31 L270.27,628.43 L270.79,627.54 L271.32,626.64 L271.84,625.73 L272.36,624.82 L272.89,623.91 L273.41,622.99 L273.93,622.06 L274.46,621.13 L274.98,620.19 L275.5,619.25 L276.03,618.31 L276.55,617.36 L277.07,616.4 L277.6,615.45 L278.12,614.48 L278.64,613.52 L279.16,612.55 L279.69,611.59 L280.21,610.61 L280.73,609.64 L281.26,608.66 L281.78,607.69 L282.3,606.71 L282.83,605.73 L283.35,604.74 L283.35,604.74 L283.87,603.75 L284.4,602.76 L284.92,601.77 L285.02,601.53 L285.44,599.95 L285.97,597.96 L286.49,595.98 L287.01,594 L287.53,592.03 L288.06,590.05 L288.58,588.08 L289.1,586.11 L289.63,584.14 L290.15,582.18 L290.67,580.22 L291.2,578.27 L291.72,576.33 L292.24,574.39 L292.77,572.46 L293.29,570.53 L293.81,568.62 L294.34,566.71 L294.86,564.81 L295.38,562.92 L295.9,561.04 L296.43,559.17 L296.95,557.31 L297.47,555.46 L298,553.63 L298.52,551.8 L299.04,549.99 L299.57,548.19 L300.09,546.4 L300.61,544.63 L301.14,542.88 L301.66,541.13 L302.18,539.41 L302.71,537.69 L303.23,536 L303.75,534.32 L304.27,532.66 L304.8,531.01 L305.32,529.39 L305.84,527.78 L306.37,526.19 L306.89,524.62 L307.41,523.07 L307.94,521.53 L308.46,520.02 L308.98,518.53 L309.51,517.06 L310.03,515.61 L310.55,514.18 L311.08,512.78 L311.6,511.4 L312.12,510.04 L312.64,508.7 L313.17,507.39 L313.69,506.1 L314.21,504.83 L314.74,503.59 L315.26,502.37 L315.78,501.18 L316.31,500.01 L316.83,498.87 L317.35,497.76 L317.88,496.67 L318.4,495.61 L318.92,494.57 L319.45,493.56 L319.97,492.58 L320.49,491.63 L321.01,490.7 L321.54,489.81 L322.06,488.94 L322.58,488.09 L323.11,487.28 L323.63,486.5 L324.15,485.74 L324.68,485.02 L325.2,484.32 L325.72,483.65 L326.25,483.01 L326.77,482.41 L327.29,481.83 L327.82,481.28 L328.34,480.77 L328.86,480.28 L329.38,479.82 L329.91,479.4 L330.43,479 L330.95,478.64 L331.48,478.31 L332,478.01 L332.52,477.74 L333.05,477.5 L333.57,477.29 L334.09,477.11 L334.62,476.97 L335.14,476.86 L335.66,476.77 L336.19,476.72 L336.71,476.7 L337.23,476.72 L337.75,476.76 L338.28,476.83 L338.8,476.94 L339.32,477.08 L339.85,477.25 L340.37,477.45 L340.89,477.68 L341.42,477.94 L341.94,478.24 L342.46,478.56 L342.99,478.92 L343.51,479.31 L344.03,479.73 L344.56,480.18 L345.08,480.66 L345.6,481.17 L346.12,481.71 L346.65,482.28 L347.17,482.88 L347.69,483.51 L348.22,484.17 L348.74,484.86 L349.26,485.58 L349.79,486.33 L350.31,487.1 L350.83,487.91 L351.36,488.75 L351.88,489.61 L352.4,490.5 L352.93,491.42 L353.45,492.37 L353.97,493.34 L354.5,494.35 L355.02,495.38 L355.54,496.43 L356.06,497.52 L356.59,498.62 L357.11,499.76 L357.63,500.92 L358.16,502.11 L358.68,503.32 L359.2,504.55 L359.73,505.81 L360.25,507.1 L360.77,508.41 L361.3,509.74 L361.82,511.09 L362.34,512.47 L362.87,513.87 L363.39,515.29 L363.91,516.74 L364.43,518.2 L364.96,519.69 L365.48,521.2 L366,522.72 L366.53,524.27 L367.05,525.84 L367.57,527.42 L368.1,529.03 L368.62,530.65 L369.14,532.29 L369.67,533.95 L370.19,535.62 L370.71,537.32 L371.24,539.02 L371.76,540.75 L372.28,542.49 L372.8,544.24 L373.33,546.01 L373.85,547.79 L374.37,549.59 L374.9,551.4 L375.42,553.22 L375.94,555.05 L376.47,556.9 L376.99,558.76 L377.51,560.62 L378.04,562.5 L378.56,564.39 L379.08,566.29 L379.61,568.19 L380.13,570.11 L380.65,572.03 L381.17,573.96 L381.7,575.9 L382.22,577.84 L382.74,579.79 L383.27,581.75 L383.79,583.71 L384.31,585.67 L384.84,587.64 L385.36,589.61 L385.88,591.59 L386.41,593.56 L386.93,595.54 L387.45,597.53 L387.98,599.51 L388.5,601.49 L389.02,603.47 L389.54,605.46 L390.07,607.44 L390.59,609.42 L391.11,611.39 L391.64,613.37 L392.16,615.34 L392.68,617.31 L393.21,619.28 L393.73,621.24 L394.25,623.19 L394.78,625.14 L395.3,627.09 L395.82,629.02 L396.34,630.95 L396.87,632.88 L397.39,634.79 L397.91,636.7 L398.44,638.6 L398.96,640.49 L399.48,642.37 L400.01,644.24 L400.53,646.1 L401.05,647.94 L401.58,649.78 L402.1,651.6 L402.62,653.41 L403.15,655.21 L403.67,656.99 L404.19,658.76 L404.72,660.52 L405.24,662.26 L405.76,663.98 L406.28,665.69 L406.81,667.39 L407.33,669.07 L407.85,670.73 L408.38,672.37 L408.9,673.99 L409.42,675.6 L409.95,677.19 L410.47,678.76 L410.99,680.31 L411.52,681.84 L412.04,683.34 L412.56,684.83 L413.08,686.3 L413.61,687.75 L414.13,689.17 L414.65,690.57 L415.18,691.96 L415.7,693.31 L416.22,694.65 L416.75,695.96 L417.27,697.25 L417.79,698.51 L418.32,699.75 L418.84,700.96 L419.36,702.15 L419.89,703.31 L420.41,704.45 L420.93,705.56 L421.46,706.65 L421.98,707.71 L422.5,708.74 L423.02,709.75 L423.55,710.72 L424.07,711.67 L424.59,712.6 L425.12,713.49 L425.64,714.36 L426.16,715.2 L426.69,716.01 L427.21,716.79 L427.73,717.54 L428.26,718.26 L428.78,718.96 L429.3,719.62 L429.83,720.25 L430.35,720.86 L430.87,721.43 L431.39,721.98 L431.92,722.49 L432.44,722.97 L432.96,723.42 L433.49,723.85 L434.01,724.24 L434.53,724.6 L435.06,724.93 L435.58,725.22 L436.1,725.49 L436.63,725.73 L437.15,725.93 L437.67,726.1 L438.19,726.24 L438.72,726.36 L439.24,726.43 L439.76,726.48 L440.29,726.5 L440.81,726.48 L441.33,726.44 L441.86,726.36 L442.38,726.25 L442.9,726.11 L443.43,725.94 L443.95,725.74 L444.47,725.51 L445,725.25 L445.52,724.96 L446.04,724.64 L446.56,724.28 L447.09,723.9 L447.61,723.49 L448.13,723.05 L448.66,722.57 L449.18,722.07 L449.7,721.54 L450.23,720.98 L450.75,720.38 L451.27,719.76 L451.8,719.11 L452.32,718.43 L452.84,717.73 L453.37,716.99 L453.89,716.22 L454.41,715.43 L454.93,714.61 L455.46,713.76 L455.98,712.88 L456.5,711.98 L457.03,711.05 L457.55,710.09 L458.07,709.1 L458.6,708.09 L459.12,707.05 L459.64,705.99 L460.17,704.9 L460.69,703.78 L461.21,702.64 L461.74,701.48 L462.26,700.29 L462.78,699.07 L463.3,697.83 L463.83,696.57 L464.35,695.29 L464.87,693.98 L465.4,692.65 L465.92,691.29 L466.44,689.92 L466.97,688.52 L467.49,687.1 L468.01,685.66 L468.54,684.2 L469.06,682.71 L469.58,681.21 L470.11,679.69 L470.63,678.15 L471.15,676.59 L471.67,675.01 L472.2,673.42 L472.72,671.8 L473.24,670.17 L473.77,668.52 L474.29,666.86 L474.81,665.18 L475.34,663.48 L475.86,661.77 L476.38,660.04 L476.91,658.3 L477.43,656.55 L477.95,654.78 L478.48,653 L479,651.2 L479.52,649.4 L480.04,647.58 L480.57,645.75 L481.09,643.91 L481.61,642.06 L482.14,640.2 L482.66,638.32 L483.18,636.45 L483.71,634.56 L484.23,632.66 L484.75,630.76 L485.28,628.85 L485.8,626.93 L486.32,625 L486.85,623.07 L487.37,621.14 L487.89,619.2 L488.41,617.25 L488.94,615.31 L489.46,613.35 L489.98,611.4 L490.51,609.44 L491.03,607.48 L491.55,605.52 L492.08,603.56 L492.6,601.6" fill="none" stroke="#E8343C" stroke-width="5.0" stroke-linejoin="round" />
<path d="M74.1,601.6 L74.38,601.6 L74.66,601.6 L74.94,601.6 L75.22,601.6 L75.5,601.6M83.69,586.87 L84.32,585.71 L84.96,584.55 L85.6,583.4 L86.24,582.25 L86.89,581.09M94.74,567.85 L95.45,566.73 L96.17,565.63 L96.89,564.52 L97.62,563.42 L98.36,562.33M108.19,549.85 L109.11,548.9 L110.05,547.97 L111.01,547.07 L111.99,546.18 L112.99,545.33M127.79,539.02 L129.11,539.04 L130.42,539.17 L131.72,539.39 L133.01,539.69 L134.27,540.09M147.45,549.3 L148.36,550.25 L149.25,551.23 L150.12,552.22 L150.98,553.22 L151.82,554.24M161.19,567.47 L161.9,568.59 L162.59,569.71 L163.28,570.83 L163.97,571.96 L164.65,573.09M172.67,587.2 L173.3,588.36 L173.93,589.52 L174.56,590.68 L175.18,591.84 L175.81,593M183.45,607.32 L184.07,608.48 L184.69,609.64 L185.32,610.81 L185.94,611.97 L186.57,613.13M194.52,627.36 L195.19,628.5 L195.86,629.63 L196.54,630.76 L197.23,631.89 L197.91,633.02M207.17,646.67 L207.98,647.71 L208.81,648.74 L209.64,649.76 L210.5,650.77 L211.37,651.76M219.48,659.31 L220.56,660.07 L221.67,660.78 L222.81,661.44 L223.98,662.05 L225.18,662.6M236.63,663.75 L237.91,663.43 L239.17,663.01 L240.39,662.53 L241.59,661.98 L242.76,661.36M253.39,652.5 L254.28,651.52 L255.14,650.52 L255.99,649.51 L256.82,648.49 L257.64,647.45M266.3,634.97 L267,633.85 L267.69,632.72 L268.38,631.6 L269.06,630.47 L269.74,629.33M279.43,612.07 L280.05,610.91 L280.68,609.74 L281.3,608.58 L281.92,607.42 L282.55,606.25M287.8,591.02 L288.14,589.75 L288.48,588.47 L288.82,587.2 L289.15,585.92 L289.49,584.64M294.37,566.59 L294.72,565.32 L295.07,564.05 L295.42,562.77 L295.78,561.5 L296.13,560.23M300.98,543.41 L301.35,542.15 L301.73,540.89 L302.12,539.62 L302.5,538.36 L302.89,537.1M308.41,520.18 L308.84,518.93 L309.28,517.69 L309.73,516.44 L310.18,515.2 L310.63,513.96M317.46,497.53 L318.04,496.34 L318.63,495.16 L319.23,493.99 L319.84,492.82 L320.47,491.66M330.1,479.26 L331.18,478.5 L332.32,477.84 L333.53,477.31 L334.79,476.93 L336.09,476.73M349.57,486.01 L350.31,487.11 L351.02,488.22 L351.72,489.34 L352.39,490.48 L353.04,491.63M360.26,507.12 L360.75,508.35 L361.23,509.58 L361.71,510.81 L362.18,512.04 L362.64,513.28M368.23,529.45 L368.64,530.7 L369.04,531.96 L369.44,533.22 L369.83,534.48 L370.22,535.74M375.11,552.14 L375.47,553.41 L375.83,554.67 L376.2,555.94 L376.55,557.21 L376.91,558.49M381.45,574.98 L381.79,576.26 L382.14,577.53 L382.48,578.81 L382.82,580.08 L383.16,581.36M387.55,597.89 L387.89,599.17 L388.22,600.45 L388.56,601.72 L388.9,603 L389.23,604.27M393.62,620.81 L393.96,622.09 L394.3,623.36 L394.64,624.64 L394.98,625.91 L395.33,627.19M399.85,643.69 L400.21,644.96 L400.57,646.23 L400.93,647.5 L401.29,648.77 L401.65,650.04M406.51,666.44 L406.9,667.7 L407.3,668.96 L407.69,670.22 L408.09,671.48 L408.5,672.74M414.04,688.92 L414.5,690.16 L414.96,691.39 L415.44,692.63 L415.91,693.86 L416.4,695.08M423.5,710.64 L424.14,711.79 L424.79,712.94 L425.47,714.07 L426.16,715.2 L426.88,716.3M436.14,725.51 L437.36,726 L438.63,726.34 L439.95,726.49 L441.26,726.44 L442.56,726.2M453.14,717.31 L453.89,716.22 L454.61,715.11 L455.31,714 L455.99,712.86 L456.65,711.72M463.91,696.36 L464.41,695.14 L464.9,693.91 L465.38,692.68 L465.86,691.45 L466.33,690.22M471.95,674.18 L472.36,672.92 L472.77,671.67 L473.17,670.41 L473.57,669.15 L473.97,667.89M478.88,651.62 L479.25,650.35 L479.61,649.08 L479.98,647.81 L480.34,646.54 L480.7,645.27M485.26,628.9 L485.61,627.62 L485.96,626.35 L486.3,625.08 L486.65,623.8 L486.99,622.53M491.4,606.11 L491.64,605.21 L491.88,604.31 L492.12,603.4 L492.36,602.5 L492.6,601.6" fill="none" stroke="#1F5BB0" stroke-width="5.0"/>
<path d="M74.1,601.6 L74.62,601.6 L75.15,601.6 L75.67,601.6 L75.77,601.6 L76.19,601.6 L76.72,601.6 L77.24,601.6 L77.76,601.6 L78.28,601.6 L78.81,601.6 L79.33,601.6 L79.85,601.6 L80.38,601.6 L80.9,601.6 L81.42,601.6 L81.95,601.6 L82.47,601.6 L82.99,601.6 L83.52,601.6 L84.04,601.6 L84.56,601.6 L85.09,601.6 L85.61,601.6 L86.13,601.6 L86.66,601.6 L87.18,601.6 L87.7,601.6 L88.22,601.6 L88.75,601.6 L89.27,601.6 L89.79,601.6 L90.32,601.6 L90.84,601.6 L91.36,601.6 L91.89,601.6 L92.41,601.6 L92.93,601.6 L93.46,601.6 L93.98,601.6 L94.5,601.6 L95.02,601.6 L95.55,601.6 L96.07,601.6 L96.59,601.6 L97.12,601.6 L97.64,601.6 L98.16,601.6 L98.69,601.6 L99.21,601.6 L99.73,601.6 L100.26,601.6 L100.78,601.6 L101.3,601.6 L101.83,601.6 L102.35,601.6 L102.87,601.6 L103.39,601.6 L103.92,601.6 L104.44,601.6 L104.96,601.6 L105.49,601.6 L106.01,601.6 L106.53,601.6 L107.06,601.6 L107.58,601.6 L108.1,601.6 L108.63,601.6 L109.15,601.6 L109.67,601.6 L110.2,601.6 L110.72,601.6 L111.24,601.6 L111.77,601.6 L112.29,601.6 L112.81,601.6 L113.33,601.6 L113.86,601.6 L114.38,601.6 L114.9,601.6 L115.43,601.6 L115.95,601.6 L116.47,601.6 L117,601.6 L117.52,601.6 L118.04,601.6 L118.57,601.6 L119.09,601.6 L119.61,601.6 L120.13,601.6 L120.66,601.6 L121.18,601.6 L121.7,601.6 L122.23,601.6 L122.75,601.6 L123.27,601.6 L123.8,601.6 L124.32,601.6 L124.84,601.6 L125.37,601.6 L125.89,601.6 L126.41,601.6 L126.94,601.6 L127.46,601.6 L127.98,601.6 L128.5,601.6 L129.03,601.6 L129.55,601.6 L130.07,601.6 L130.6,601.6 L131.12,601.6 L131.64,601.6 L132.17,601.6 L132.69,601.6 L133.21,601.6 L133.74,601.6 L134.26,601.6 L134.78,601.6 L135.31,601.6 L135.83,601.6 L136.35,601.6 L136.88,601.6 L137.4,601.6 L137.92,601.6 L138.44,601.6 L138.97,601.6 L139.49,601.6 L140.01,601.6 L140.54,601.6 L141.06,601.6 L141.58,601.6 L142.11,601.6 L142.63,601.6 L143.15,601.6 L143.68,601.6 L144.2,601.6 L144.72,601.6 L145.25,601.6 L145.77,601.6 L146.29,601.6 L146.81,601.6 L147.34,601.6 L147.86,601.6 L148.38,601.6 L148.91,601.6 L149.43,601.6 L149.95,601.6 L150.48,601.6 L151,601.6 L151.52,601.6 L152.05,601.6 L152.57,601.6 L153.09,601.6 L153.62,601.6 L154.14,601.6 L154.66,601.6 L155.18,601.6 L155.71,601.6 L156.23,601.6 L156.75,601.6 L157.28,601.6 L157.8,601.6 L158.32,601.6 L158.85,601.6 L159.37,601.6 L159.89,601.6 L160.42,601.6 L160.94,601.6 L161.46,601.6 L161.99,601.6 L162.51,601.6 L163.03,601.6 L163.55,601.6 L164.08,601.6 L164.6,601.6 L165.12,601.6 L165.65,601.6 L166.17,601.6 L166.69,601.6 L167.22,601.6 L167.74,601.6 L168.26,601.6 L168.79,601.6 L169.31,601.6 L169.83,601.6 L170.35,601.6 L170.88,601.6 L171.4,601.6 L171.92,601.6 L172.45,601.6 L172.97,601.6 L173.49,601.6 L174.02,601.6 L174.54,601.6 L175.06,601.6 L175.59,601.6 L176.11,601.6 L176.63,601.6 L177.16,601.6 L177.68,601.6 L178.2,601.6 L178.72,601.6 L178.72,601.6 L179.25,599.64 L179.77,597.68 L180.29,595.72 L180.82,593.76 L181.34,591.8 L181.86,589.85 L182.39,587.89 L182.91,585.95 L183.43,584 L183.96,582.06 L184.48,580.13 L185,578.2 L185.53,576.27 L186.05,574.35 L186.57,572.44 L187.09,570.54 L187.62,568.64 L188.14,566.75 L188.66,564.88 L189.19,563 L189.71,561.14 L190.23,559.29 L190.76,557.45 L191.28,555.62 L191.8,553.8 L192.33,552 L192.85,550.2 L193.37,548.42 L193.9,546.65 L194.42,544.9 L194.94,543.16 L195.46,541.43 L195.99,539.72 L196.51,538.02 L197.03,536.34 L197.56,534.68 L198.08,533.03 L198.6,531.4 L199.13,529.78 L199.65,528.19 L200.17,526.61 L200.7,525.05 L201.22,523.51 L201.74,521.99 L202.27,520.49 L202.79,519 L203.31,517.54 L203.83,516.1 L204.36,514.68 L204.88,513.28 L205.4,511.91 L205.93,510.55 L206.45,509.22 L206.97,507.91 L207.5,506.63 L208.02,505.37 L208.54,504.13 L209.07,502.91 L209.59,501.72 L210.11,500.56 L210.64,499.42 L211.16,498.3 L211.68,497.21 L212.2,496.15 L212.73,495.11 L213.25,494.1 L213.77,493.11 L214.3,492.15 L214.82,491.22 L215.34,490.32 L215.87,489.44 L216.39,488.59 L216.91,487.77 L217.44,486.98 L217.96,486.21 L218.48,485.47 L219.01,484.77 L219.53,484.09 L220.05,483.44 L220.57,482.82 L221.1,482.22 L221.62,481.66 L222.14,481.13 L222.67,480.63 L223.19,480.15 L223.71,479.71 L224.24,479.3 L224.76,478.92 L225.28,478.56 L225.81,478.24 L226.33,477.95 L226.85,477.69 L227.38,477.46 L227.9,477.26 L228.42,477.09 L228.94,476.95 L229.47,476.84 L229.99,476.76 L230.51,476.72 L231.04,476.7 L231.56,476.72 L232.08,476.76 L232.61,476.84 L233.13,476.95 L233.65,477.09 L234.18,477.26 L234.7,477.46 L235.22,477.69 L235.75,477.95 L236.27,478.24 L236.79,478.56 L237.31,478.92 L237.84,479.3 L238.36,479.71 L238.88,480.15 L239.41,480.63 L239.93,481.13 L240.45,481.66 L240.98,482.22 L241.5,482.82 L242.02,483.44 L242.55,484.09 L243.07,484.77 L243.59,485.47 L244.12,486.21 L244.64,486.98 L245.16,487.77 L245.68,488.59 L246.21,489.44 L246.73,490.32 L247.25,491.22 L247.78,492.15 L248.3,493.11 L248.82,494.1 L249.35,495.11 L249.87,496.15 L250.39,497.21 L250.92,498.3 L251.44,499.42 L251.96,500.56 L252.49,501.72 L253.01,502.91 L253.53,504.13 L254.05,505.37 L254.58,506.63 L255.1,507.91 L255.62,509.22 L256.15,510.55 L256.67,511.91 L257.19,513.28 L257.72,514.68 L258.24,516.1 L258.76,517.54 L259.29,519 L259.81,520.49 L260.33,521.99 L260.86,523.51 L261.38,525.05 L261.9,526.61 L262.42,528.19 L262.95,529.78 L263.47,531.4 L263.99,533.03 L264.52,534.68 L265.04,536.34 L265.56,538.02 L266.09,539.72 L266.61,541.43 L267.13,543.16 L267.66,544.9 L268.18,546.65 L268.7,548.42 L269.23,550.2 L269.75,552 L270.27,553.8 L270.79,555.62 L271.32,557.45 L271.84,559.29 L272.36,561.14 L272.89,563 L273.41,564.88 L273.93,566.75 L274.46,568.64 L274.98,570.54 L275.5,572.44 L276.03,574.35 L276.55,576.27 L277.07,578.2 L277.6,580.13 L278.12,582.06 L278.64,584 L279.16,585.95 L279.69,587.89 L280.21,589.85 L280.73,591.8 L281.26,593.76 L281.78,595.72 L282.3,597.68 L282.83,599.64 L283.35,601.6 L283.35,601.6 L283.87,603.56 L284.4,605.52 L284.92,607.48 L285.02,607.88 L285.44,609.44 L285.97,611.4 L286.49,613.35 L287.01,615.31 L287.53,617.25 L288.06,619.2 L288.58,621.14 L289.1,623.07 L289.63,625 L290.15,626.93 L290.67,628.85 L291.2,630.76 L291.72,632.66 L292.24,634.56 L292.77,636.45 L293.29,638.32 L293.81,640.2 L294.34,642.06 L294.86,643.91 L295.38,645.75 L295.9,647.58 L296.43,649.4 L296.95,651.2 L297.47,653 L298,654.78 L298.52,656.55 L299.04,658.3 L299.57,660.04 L300.09,661.77 L300.61,663.48 L301.14,665.18 L301.66,666.86 L302.18,668.52 L302.71,670.17 L303.23,671.8 L303.75,673.42 L304.27,675.01 L304.8,676.59 L305.32,678.15 L305.84,679.69 L306.37,681.21 L306.89,682.71 L307.41,684.2 L307.94,685.66 L308.46,687.1 L308.98,688.52 L309.51,689.92 L310.03,691.29 L310.55,692.65 L311.08,693.98 L311.6,695.29 L312.12,696.57 L312.64,697.83 L313.17,699.07 L313.69,700.29 L314.21,701.48 L314.74,702.64 L315.26,703.78 L315.78,704.9 L316.31,705.99 L316.83,707.05 L317.35,708.09 L317.88,709.1 L318.4,710.09 L318.92,711.05 L319.45,711.98 L319.97,712.88 L320.49,713.76 L321.01,714.61 L321.54,715.43 L322.06,716.22 L322.58,716.99 L323.11,717.73 L323.63,718.43 L324.15,719.11 L324.68,719.76 L325.2,720.38 L325.72,720.98 L326.25,721.54 L326.77,722.07 L327.29,722.57 L327.82,723.05 L328.34,723.49 L328.86,723.9 L329.38,724.28 L329.91,724.64 L330.43,724.96 L330.95,725.25 L331.48,725.51 L332,725.74 L332.52,725.94 L333.05,726.11 L333.57,726.25 L334.09,726.36 L334.62,726.44 L335.14,726.48 L335.66,726.5 L336.19,726.48 L336.71,726.44 L337.23,726.36 L337.75,726.25 L338.28,726.11 L338.8,725.94 L339.32,725.74 L339.85,725.51 L340.37,725.25 L340.89,724.96 L341.42,724.64 L341.94,724.28 L342.46,723.9 L342.99,723.49 L343.51,723.05 L344.03,722.57 L344.56,722.07 L345.08,721.54 L345.6,720.98 L346.12,720.38 L346.65,719.76 L347.17,719.11 L347.69,718.43 L348.22,717.73 L348.74,716.99 L349.26,716.22 L349.79,715.43 L350.31,714.61 L350.83,713.76 L351.36,712.88 L351.88,711.98 L352.4,711.05 L352.93,710.09 L353.45,709.1 L353.97,708.09 L354.5,707.05 L355.02,705.99 L355.54,704.9 L356.06,703.78 L356.59,702.64 L357.11,701.48 L357.63,700.29 L358.16,699.07 L358.68,697.83 L359.2,696.57 L359.73,695.29 L360.25,693.98 L360.77,692.65 L361.3,691.29 L361.82,689.92 L362.34,688.52 L362.87,687.1 L363.39,685.66 L363.91,684.2 L364.43,682.71 L364.96,681.21 L365.48,679.69 L366,678.15 L366.53,676.59 L367.05,675.01 L367.57,673.42 L368.1,671.8 L368.62,670.17 L369.14,668.52 L369.67,666.86 L370.19,665.18 L370.71,663.48 L371.24,661.77 L371.76,660.04 L372.28,658.3 L372.8,656.55 L373.33,654.78 L373.85,653 L374.37,651.2 L374.9,649.4 L375.42,647.58 L375.94,645.75 L376.47,643.91 L376.99,642.06 L377.51,640.2 L378.04,638.32 L378.56,636.45 L379.08,634.56 L379.61,632.66 L380.13,630.76 L380.65,628.85 L381.17,626.93 L381.7,625 L382.22,623.07 L382.74,621.14 L383.27,619.2 L383.79,617.25 L384.31,615.31 L384.84,613.35 L385.36,611.4 L385.88,609.44 L386.41,607.48 L386.93,605.52 L387.45,603.56 L387.98,601.6 L388.5,599.64 L389.02,597.68 L389.54,595.72 L390.07,593.76 L390.59,591.8 L391.11,589.85 L391.64,587.89 L392.16,585.95 L392.68,584 L393.21,582.06 L393.73,580.13 L394.25,578.2 L394.78,576.27 L395.3,574.35 L395.82,572.44 L396.34,570.54 L396.87,568.64 L397.39,566.75 L397.91,564.88 L398.44,563 L398.96,561.14 L399.48,559.29 L400.01,557.45 L400.53,555.62 L401.05,553.8 L401.58,552 L402.1,550.2 L402.62,548.42 L403.15,546.65 L403.67,544.9 L404.19,543.16 L404.72,541.43 L405.24,539.72 L405.76,538.02 L406.28,536.34 L406.81,534.68 L407.33,533.03 L407.85,531.4 L408.38,529.78 L408.9,528.19 L409.42,526.61 L409.95,525.05 L410.47,523.51 L410.99,521.99 L411.52,520.49 L412.04,519 L412.56,517.54 L413.08,516.1 L413.61,514.68 L414.13,513.28 L414.65,511.91 L415.18,510.55 L415.7,509.22 L416.22,507.91 L416.75,506.63 L417.27,505.37 L417.79,504.13 L418.32,502.91 L418.84,501.72 L419.36,500.56 L419.89,499.42 L420.41,498.3 L420.93,497.21 L421.46,496.15 L421.98,495.11 L422.5,494.1 L423.02,493.11 L423.55,492.15 L424.07,491.22 L424.59,490.32 L425.12,489.44 L425.64,488.59 L426.16,487.77 L426.69,486.98 L427.21,486.21 L427.73,485.47 L428.26,484.77 L428.78,484.09 L429.3,483.44 L429.83,482.82 L430.35,482.22 L430.87,481.66 L431.39,481.13 L431.92,480.63 L432.44,480.15 L432.96,479.71 L433.49,479.3 L434.01,478.92 L434.53,478.56 L435.06,478.24 L435.58,477.95 L436.1,477.69 L436.63,477.46 L437.15,477.26 L437.67,477.09 L438.19,476.95 L438.72,476.84 L439.24,476.76 L439.76,476.72 L440.29,476.7 L440.81,476.72 L441.33,476.76 L441.86,476.84 L442.38,476.95 L442.9,477.09 L443.43,477.26 L443.95,477.46 L444.47,477.69 L445,477.95 L445.52,478.24 L446.04,478.56 L446.56,478.92 L447.09,479.3 L447.61,479.71 L448.13,480.15 L448.66,480.63 L449.18,481.13 L449.7,481.66 L450.23,482.22 L450.75,482.82 L451.27,483.44 L451.8,484.09 L452.32,484.77 L452.84,485.47 L453.37,486.21 L453.89,486.98 L454.41,487.77 L454.93,488.59 L455.46,489.44 L455.98,490.32 L456.5,491.22 L457.03,492.15 L457.55,493.11 L458.07,494.1 L458.6,495.11 L459.12,496.15 L459.64,497.21 L460.17,498.3 L460.69,499.42 L461.21,500.56 L461.74,501.72 L462.26,502.91 L462.78,504.13 L463.3,505.37 L463.83,506.63 L464.35,507.91 L464.87,509.22 L465.4,510.55 L465.92,511.91 L466.44,513.28 L466.97,514.68 L467.49,516.1 L468.01,517.54 L468.54,519 L469.06,520.49 L469.58,521.99 L470.11,523.51 L470.63,525.05 L471.15,526.61 L471.67,528.19 L472.2,529.78 L472.72,531.4 L473.24,533.03 L473.77,534.68 L474.29,536.34 L474.81,538.02 L475.34,539.72 L475.86,541.43 L476.38,543.16 L476.91,544.9 L477.43,546.65 L477.95,548.42 L478.48,550.2 L479,552 L479.52,553.8 L480.04,555.62 L480.57,557.45 L481.09,559.29 L481.61,561.14 L482.14,563 L482.66,564.88 L483.18,566.75 L483.71,568.64 L484.23,570.54 L484.75,572.44 L485.28,574.35 L485.8,576.27 L486.32,578.2 L486.85,580.13 L487.37,582.06 L487.89,584 L488.41,585.95 L488.94,587.89 L489.46,589.85 L489.98,591.8 L490.51,593.76 L491.03,595.72 L491.55,597.68 L492.08,599.64 L492.6,601.6" fill="none" stroke="#C98F2A" stroke-width="5.0" stroke-linejoin="round" />
<path d="M74.1,601.6 L75.13,601.6 L76.16,601.6 L77.19,601.6 L78.22,601.6 L79.25,601.6M97.05,601.6 L98.23,601.6 L99.41,601.6 L100.59,601.6 L101.77,601.6 L102.95,601.6M121.85,601.6 L123.03,601.6 L124.21,601.6 L125.39,601.6 L126.57,601.6 L127.75,601.6M145.95,601.6 L147.13,601.6 L148.31,601.6 L149.49,601.6 L150.67,601.6 L151.85,601.6M170.25,601.6 L171.43,601.6 L172.61,601.6 L173.79,601.6 L174.97,601.6 L176.15,601.6M184.09,581.58 L184.39,580.44 L184.7,579.3 L185.01,578.16 L185.32,577.02 L185.63,575.89M190.28,559.12 L190.61,557.98 L190.93,556.85 L191.25,555.72 L191.58,554.58 L191.91,553.45M197.35,535.35 L197.7,534.22 L198.06,533.1 L198.42,531.97 L198.78,530.85 L199.14,529.73M204.59,514.05 L205.01,512.95 L205.43,511.84 L205.85,510.74 L206.29,509.64 L206.72,508.55M213.78,493.09 L214.35,492.06 L214.93,491.03 L215.53,490.01 L216.14,489 L216.76,488M220.03,483.46 L220.8,482.56 L221.59,481.69 L222.43,480.86 L223.3,480.06 L224.21,479.32M237.88,479.33 L238.79,480.08 L239.66,480.87 L240.49,481.71 L241.29,482.58 L242.06,483.48M245.27,487.94 L245.9,488.93 L246.51,489.94 L247.11,490.96 L247.69,491.99 L248.25,493.02M255.41,508.7 L255.85,509.79 L256.28,510.89 L256.7,511.99 L257.12,513.1 L257.54,514.2M263.18,530.49 L263.54,531.61 L263.9,532.74 L264.26,533.86 L264.61,534.99 L264.97,536.11M269.93,552.62 L270.26,553.76 L270.58,554.89 L270.91,556.02 L271.23,557.16 L271.56,558.29M276.18,574.9 L276.49,576.04 L276.8,577.18 L277.11,578.32 L277.41,579.46 L277.72,580.6M282.19,597.25 L282.49,598.39 L282.8,599.53 L283.1,600.67 L283.41,601.81 L283.71,602.95M288.17,619.6 L288.47,620.74 L288.78,621.88 L289.09,623.02 L289.4,624.16 L289.71,625.3M294.3,641.92 L294.62,643.05 L294.94,644.19 L295.26,645.32 L295.58,646.46 L295.91,647.59M300.81,664.12 L301.16,665.25 L301.51,666.37 L301.86,667.5 L302.22,668.63 L302.57,669.75M308.09,686.08 L308.49,687.19 L308.9,688.3 L309.31,689.4 L309.73,690.51 L310.15,691.61M317.01,707.42 L317.55,708.47 L318.1,709.52 L318.65,710.56 L319.23,711.59 L319.81,712.61M330.3,724.88 L331.34,725.44 L332.43,725.9 L333.55,726.25 L334.72,726.44 L335.89,726.49M347.04,719.28 L347.76,718.34 L348.46,717.39 L349.13,716.42 L349.78,715.44 L350.41,714.44M358.42,698.45 L358.87,697.36 L359.32,696.27 L359.77,695.18 L360.21,694.08 L360.64,692.99M366.68,676.14 L367.05,675.02 L367.42,673.9 L367.78,672.77 L368.14,671.65 L368.5,670.53M373.73,653.41 L374.06,652.28 L374.39,651.14 L374.72,650.01 L375.05,648.88 L375.37,647.74M380.2,630.5 L380.51,629.37 L380.82,628.23 L381.13,627.09 L381.44,625.95 L381.75,624.81M386.39,607.52 L386.7,606.38 L387,605.24 L387.31,604.1 L387.61,602.96 L387.92,601.82M392.54,584.53 L392.85,583.39 L393.15,582.25 L393.46,581.11 L393.77,579.98 L394.08,578.84M398.84,561.58 L399.16,560.44 L399.48,559.31 L399.8,558.17 L400.12,557.04 L400.45,555.9M405.54,538.74 L405.89,537.62 L406.24,536.49 L406.59,535.36 L406.95,534.24 L407.3,533.11M413.06,516.17 L413.47,515.06 L413.88,513.95 L414.3,512.85 L414.72,511.75 L415.14,510.65M422.4,494.29 L422.95,493.25 L423.51,492.21 L424.09,491.18 L424.68,490.16 L425.29,489.15M437.92,477.02 L439.08,476.79 L440.25,476.7 L441.43,476.78 L442.59,477 L443.71,477.37M455.85,490.1 L456.45,491.12 L457.03,492.15 L457.59,493.19 L458.14,494.23 L458.68,495.28M465.83,511.68 L466.25,512.78 L466.67,513.89 L467.08,514.99 L467.49,516.1 L467.89,517.21M473.61,534.17 L473.96,535.29 L474.32,536.42 L474.67,537.55 L475.01,538.67 L475.36,539.8M480.43,556.97 L480.75,558.1 L481.08,559.24 L481.4,560.37 L481.72,561.51 L482.04,562.65M486.79,579.9 L487.09,581.04 L487.4,582.18 L487.71,583.32 L488.02,584.46 L488.32,585.6" fill="none" stroke="#35A86A" stroke-width="5.0"/>
<clipPath id="clipB05"><rect x="172" y="588" width="14" height="26"/></clipPath>
<g clip-path="url(#clipB05)"><path d="M74.1,601.6 L74.62,601.6 L75.15,601.6 L75.67,601.6 L75.77,601.6 L76.19,600.81 L76.72,599.83 L77.24,598.85 L77.76,597.87 L78.28,596.89 L78.81,595.91 L79.33,594.93 L79.85,593.95 L80.38,592.98 L80.9,592 L81.42,591.03 L81.95,590.07 L82.47,589.1 L82.99,588.14 L83.52,587.18 L84.04,586.23 L84.56,585.27 L85.09,584.33 L85.61,583.38 L86.13,582.45 L86.66,581.51 L87.18,580.58 L87.7,579.66 L88.22,578.74 L88.75,577.83 L89.27,576.92 L89.79,576.02 L90.32,575.13 L90.84,574.24 L91.36,573.36 L91.89,572.49 L92.41,571.62 L92.93,570.76 L93.46,569.91 L93.98,569.07 L94.5,568.23 L95.02,567.4 L95.55,566.58 L96.07,565.77 L96.59,564.97 L97.12,564.18 L97.64,563.39 L98.16,562.62 L98.69,561.86 L99.21,561.1 L99.73,560.36 L100.26,559.62 L100.78,558.9 L101.3,558.19 L101.83,557.48 L102.35,556.79 L102.87,556.11 L103.39,555.44 L103.92,554.78 L104.44,554.14 L104.96,553.5 L105.49,552.88 L106.01,552.27 L106.53,551.67 L107.06,551.08 L107.58,550.51 L108.1,549.94 L108.63,549.4 L109.15,548.86 L109.67,548.34 L110.2,547.83 L110.72,547.33 L111.24,546.85 L111.77,546.38 L112.29,545.92 L112.81,545.48 L113.33,545.05 L113.86,544.64 L114.38,544.24 L114.9,543.85 L115.43,543.48 L115.95,543.12 L116.47,542.78 L117,542.45 L117.52,542.14 L118.04,541.84 L118.57,541.55 L119.09,541.28 L119.61,541.03 L120.13,540.79 L120.66,540.56 L121.18,540.35 L121.7,540.16 L122.23,539.98 L122.75,539.81 L123.27,539.66 L123.8,539.53 L124.32,539.41 L124.84,539.31 L125.37,539.22 L125.89,539.15 L126.41,539.09 L126.94,539.05 L127.46,539.02 L127.98,539.01 L128.5,539.02 L129.03,539.04 L129.55,539.07 L130.07,539.12 L130.6,539.19 L131.12,539.27 L131.64,539.37 L132.17,539.48 L132.69,539.61 L133.21,539.75 L133.74,539.91 L134.26,540.08 L134.78,540.27 L135.31,540.48 L135.83,540.7 L136.35,540.93 L136.88,541.18 L137.4,541.44 L137.92,541.72 L138.44,542.01 L138.97,542.32 L139.49,542.65 L140.01,542.98 L140.54,543.33 L141.06,543.7 L141.58,544.08 L142.11,544.48 L142.63,544.88 L143.15,545.31 L143.68,545.74 L144.2,546.19 L144.72,546.66 L145.25,547.14 L145.77,547.63 L146.29,548.13 L146.81,548.65 L147.34,549.18 L147.86,549.72 L148.38,550.28 L148.91,550.85 L149.43,551.43 L149.95,552.02 L150.48,552.63 L151,553.25 L151.52,553.88 L152.05,554.52 L152.57,555.18 L153.09,555.84 L153.62,556.52 L154.14,557.2 L154.66,557.9 L155.18,558.61 L155.71,559.33 L156.23,560.06 L156.75,560.8 L157.28,561.55 L157.8,562.31 L158.32,563.08 L158.85,563.86 L159.37,564.65 L159.89,565.45 L160.42,566.26 L160.94,567.07 L161.46,567.9 L161.99,568.73 L162.51,569.57 L163.03,570.42 L163.55,571.28 L164.08,572.14 L164.6,573.01 L165.12,573.89 L165.65,574.77 L166.17,575.66 L166.69,576.56 L167.22,577.47 L167.74,578.38 L168.26,579.29 L168.79,580.21 L169.31,581.14 L169.83,582.07 L170.35,583.01 L170.88,583.95 L171.4,584.89 L171.92,585.84 L172.45,586.8 L172.97,587.75 L173.49,588.72 L174.02,589.68 L174.54,590.65 L175.06,591.61 L175.59,592.59 L176.11,593.56 L176.63,594.54 L177.16,595.51 L177.68,596.49 L178.2,597.47 L178.72,598.46 L178.72,598.46 L179.25,599.44 L179.77,600.42 L180.29,601.4 L180.82,602.39 L181.34,603.37 L181.86,604.35 L182.39,605.33 L182.91,606.31 L183.43,607.29 L183.96,608.27 L184.48,609.25 L185,610.22 L185.53,611.2 L186.05,612.17 L186.57,613.13 L187.09,614.1 L187.62,615.06 L188.14,616.02 L188.66,616.97 L189.19,617.93 L189.71,618.87 L190.23,619.82 L190.76,620.75 L191.28,621.69 L191.8,622.62 L192.33,623.54 L192.85,624.46 L193.37,625.37 L193.9,626.28 L194.42,627.18 L194.94,628.07 L195.46,628.96 L195.99,629.84 L196.51,630.71 L197.03,631.58 L197.56,632.44 L198.08,633.29 L198.6,634.13 L199.13,634.97 L199.65,635.8 L200.17,636.62 L200.7,637.43 L201.22,638.23 L201.74,639.02 L202.27,639.81 L202.79,640.58 L203.31,641.34 L203.83,642.1 L204.36,642.84 L204.88,643.58 L205.4,644.3 L205.93,645.01 L206.45,645.72 L206.97,646.41 L207.5,647.09 L208.02,647.76 L208.54,648.42 L209.07,649.06 L209.59,649.7 L210.11,650.32 L210.64,650.93 L211.16,651.53 L211.68,652.12 L212.2,652.69 L212.73,653.26 L213.25,653.8 L213.77,654.34 L214.3,654.86 L214.82,655.37 L215.34,655.87 L215.87,656.35 L216.39,656.82 L216.91,657.28 L217.44,657.72 L217.96,658.15 L218.48,658.56 L219.01,658.96 L219.53,659.35 L220.05,659.72 L220.57,660.08 L221.1,660.42 L221.62,660.75 L222.14,661.06 L222.67,661.36 L223.19,661.65 L223.71,661.92 L224.24,662.17 L224.76,662.41 L225.28,662.64 L225.81,662.85 L226.33,663.04 L226.85,663.22 L227.38,663.39 L227.9,663.54 L228.42,663.67 L228.94,663.79 L229.47,663.89 L229.99,663.98 L230.51,664.05 L231.04,664.11 L231.56,664.15 L232.08,664.18 L232.61,664.19 L233.13,664.18 L233.65,664.16 L234.18,664.13 L234.7,664.08 L235.22,664.01 L235.75,663.93 L236.27,663.83 L236.79,663.72 L237.31,663.59 L237.84,663.45 L238.36,663.29 L238.88,663.12 L239.41,662.93 L239.93,662.72 L240.45,662.5 L240.98,662.27 L241.5,662.02 L242.02,661.76 L242.55,661.48 L243.07,661.19 L243.59,660.88 L244.12,660.55 L244.64,660.22 L245.16,659.87 L245.68,659.5 L246.21,659.12 L246.73,658.72 L247.25,658.32 L247.78,657.89 L248.3,657.46 L248.82,657.01 L249.35,656.54 L249.87,656.06 L250.39,655.57 L250.92,655.07 L251.44,654.55 L251.96,654.02 L252.49,653.48 L253.01,652.92 L253.53,652.35 L254.05,651.77 L254.58,651.18 L255.1,650.57 L255.62,649.95 L256.15,649.32 L256.67,648.68 L257.19,648.02 L257.72,647.36 L258.24,646.68 L258.76,646 L259.29,645.3 L259.81,644.59 L260.33,643.87 L260.86,643.14 L261.38,642.4 L261.9,641.65 L262.42,640.89 L262.95,640.12 L263.47,639.34 L263.99,638.55 L264.52,637.75 L265.04,636.94 L265.56,636.13 L266.09,635.3 L266.61,634.47 L267.13,633.63 L267.66,632.78 L268.18,631.92 L268.7,631.06 L269.23,630.19 L269.75,629.31 L270.27,628.43 L270.79,627.54 L271.32,626.64 L271.84,625.73 L272.36,624.82 L272.89,623.91 L273.41,622.99 L273.93,622.06 L274.46,621.13 L274.98,620.19 L275.5,619.25 L276.03,618.31 L276.55,617.36 L277.07,616.4 L277.6,615.45 L278.12,614.48 L278.64,613.52 L279.16,612.55 L279.69,611.59 L280.21,610.61 L280.73,609.64 L281.26,608.66 L281.78,607.69 L282.3,606.71 L282.83,605.73 L283.35,604.74 L283.35,604.74 L283.87,603.75 L284.4,602.76 L284.92,601.77 L285.02,601.53 L285.44,599.95 L285.97,597.96 L286.49,595.98 L287.01,594 L287.53,592.03 L288.06,590.05 L288.58,588.08 L289.1,586.11 L289.63,584.14 L290.15,582.18 L290.67,580.22 L291.2,578.27 L291.72,576.33 L292.24,574.39 L292.77,572.46 L293.29,570.53 L293.81,568.62 L294.34,566.71 L294.86,564.81 L295.38,562.92 L295.9,561.04 L296.43,559.17 L296.95,557.31 L297.47,555.46 L298,553.63 L298.52,551.8 L299.04,549.99 L299.57,548.19 L300.09,546.4 L300.61,544.63 L301.14,542.88 L301.66,541.13 L302.18,539.41 L302.71,537.69 L303.23,536 L303.75,534.32 L304.27,532.66 L304.8,531.01 L305.32,529.39 L305.84,527.78 L306.37,526.19 L306.89,524.62 L307.41,523.07 L307.94,521.53 L308.46,520.02 L308.98,518.53 L309.51,517.06 L310.03,515.61 L310.55,514.18 L311.08,512.78 L311.6,511.4 L312.12,510.04 L312.64,508.7 L313.17,507.39 L313.69,506.1 L314.21,504.83 L314.74,503.59 L315.26,502.37 L315.78,501.18 L316.31,500.01 L316.83,498.87 L317.35,497.76 L317.88,496.67 L318.4,495.61 L318.92,494.57 L319.45,493.56 L319.97,492.58 L320.49,491.63 L321.01,490.7 L321.54,489.81 L322.06,488.94 L322.58,488.09 L323.11,487.28 L323.63,486.5 L324.15,485.74 L324.68,485.02 L325.2,484.32 L325.72,483.65 L326.25,483.01 L326.77,482.41 L327.29,481.83 L327.82,481.28 L328.34,480.77 L328.86,480.28 L329.38,479.82 L329.91,479.4 L330.43,479 L330.95,478.64 L331.48,478.31 L332,478.01 L332.52,477.74 L333.05,477.5 L333.57,477.29 L334.09,477.11 L334.62,476.97 L335.14,476.86 L335.66,476.77 L336.19,476.72 L336.71,476.7 L337.23,476.72 L337.75,476.76 L338.28,476.83 L338.8,476.94 L339.32,477.08 L339.85,477.25 L340.37,477.45 L340.89,477.68 L341.42,477.94 L341.94,478.24 L342.46,478.56 L342.99,478.92 L343.51,479.31 L344.03,479.73 L344.56,480.18 L345.08,480.66 L345.6,481.17 L346.12,481.71 L346.65,482.28 L347.17,482.88 L347.69,483.51 L348.22,484.17 L348.74,484.86 L349.26,485.58 L349.79,486.33 L350.31,487.1 L350.83,487.91 L351.36,488.75 L351.88,489.61 L352.4,490.5 L352.93,491.42 L353.45,492.37 L353.97,493.34 L354.5,494.35 L355.02,495.38 L355.54,496.43 L356.06,497.52 L356.59,498.62 L357.11,499.76 L357.63,500.92 L358.16,502.11 L358.68,503.32 L359.2,504.55 L359.73,505.81 L360.25,507.1 L360.77,508.41 L361.3,509.74 L361.82,511.09 L362.34,512.47 L362.87,513.87 L363.39,515.29 L363.91,516.74 L364.43,518.2 L364.96,519.69 L365.48,521.2 L366,522.72 L366.53,524.27 L367.05,525.84 L367.57,527.42 L368.1,529.03 L368.62,530.65 L369.14,532.29 L369.67,533.95 L370.19,535.62 L370.71,537.32 L371.24,539.02 L371.76,540.75 L372.28,542.49 L372.8,544.24 L373.33,546.01 L373.85,547.79 L374.37,549.59 L374.9,551.4 L375.42,553.22 L375.94,555.05 L376.47,556.9 L376.99,558.76 L377.51,560.62 L378.04,562.5 L378.56,564.39 L379.08,566.29 L379.61,568.19 L380.13,570.11 L380.65,572.03 L381.17,573.96 L381.7,575.9 L382.22,577.84 L382.74,579.79 L383.27,581.75 L383.79,583.71 L384.31,585.67 L384.84,587.64 L385.36,589.61 L385.88,591.59 L386.41,593.56 L386.93,595.54 L387.45,597.53 L387.98,599.51 L388.5,601.49 L389.02,603.47 L389.54,605.46 L390.07,607.44 L390.59,609.42 L391.11,611.39 L391.64,613.37 L392.16,615.34 L392.68,617.31 L393.21,619.28 L393.73,621.24 L394.25,623.19 L394.78,625.14 L395.3,627.09 L395.82,629.02 L396.34,630.95 L396.87,632.88 L397.39,634.79 L397.91,636.7 L398.44,638.6 L398.96,640.49 L399.48,642.37 L400.01,644.24 L400.53,646.1 L401.05,647.94 L401.58,649.78 L402.1,651.6 L402.62,653.41 L403.15,655.21 L403.67,656.99 L404.19,658.76 L404.72,660.52 L405.24,662.26 L405.76,663.98 L406.28,665.69 L406.81,667.39 L407.33,669.07 L407.85,670.73 L408.38,672.37 L408.9,673.99 L409.42,675.6 L409.95,677.19 L410.47,678.76 L410.99,680.31 L411.52,681.84 L412.04,683.34 L412.56,684.83 L413.08,686.3 L413.61,687.75 L414.13,689.17 L414.65,690.57 L415.18,691.96 L415.7,693.31 L416.22,694.65 L416.75,695.96 L417.27,697.25 L417.79,698.51 L418.32,699.75 L418.84,700.96 L419.36,702.15 L419.89,703.31 L420.41,704.45 L420.93,705.56 L421.46,706.65 L421.98,707.71 L422.5,708.74 L423.02,709.75 L423.55,710.72 L424.07,711.67 L424.59,712.6 L425.12,713.49 L425.64,714.36 L426.16,715.2 L426.69,716.01 L427.21,716.79 L427.73,717.54 L428.26,718.26 L428.78,718.96 L429.3,719.62 L429.83,720.25 L430.35,720.86 L430.87,721.43 L431.39,721.98 L431.92,722.49 L432.44,722.97 L432.96,723.42 L433.49,723.85 L434.01,724.24 L434.53,724.6 L435.06,724.93 L435.58,725.22 L436.1,725.49 L436.63,725.73 L437.15,725.93 L437.67,726.1 L438.19,726.24 L438.72,726.36 L439.24,726.43 L439.76,726.48 L440.29,726.5 L440.81,726.48 L441.33,726.44 L441.86,726.36 L442.38,726.25 L442.9,726.11 L443.43,725.94 L443.95,725.74 L444.47,725.51 L445,725.25 L445.52,724.96 L446.04,724.64 L446.56,724.28 L447.09,723.9 L447.61,723.49 L448.13,723.05 L448.66,722.57 L449.18,722.07 L449.7,721.54 L450.23,720.98 L450.75,720.38 L451.27,719.76 L451.8,719.11 L452.32,718.43 L452.84,717.73 L453.37,716.99 L453.89,716.22 L454.41,715.43 L454.93,714.61 L455.46,713.76 L455.98,712.88 L456.5,711.98 L457.03,711.05 L457.55,710.09 L458.07,709.1 L458.6,708.09 L459.12,707.05 L459.64,705.99 L460.17,704.9 L460.69,703.78 L461.21,702.64 L461.74,701.48 L462.26,700.29 L462.78,699.07 L463.3,697.83 L463.83,696.57 L464.35,695.29 L464.87,693.98 L465.4,692.65 L465.92,691.29 L466.44,689.92 L466.97,688.52 L467.49,687.1 L468.01,685.66 L468.54,684.2 L469.06,682.71 L469.58,681.21 L470.11,679.69 L470.63,678.15 L471.15,676.59 L471.67,675.01 L472.2,673.42 L472.72,671.8 L473.24,670.17 L473.77,668.52 L474.29,666.86 L474.81,665.18 L475.34,663.48 L475.86,661.77 L476.38,660.04 L476.91,658.3 L477.43,656.55 L477.95,654.78 L478.48,653 L479,651.2 L479.52,649.4 L480.04,647.58 L480.57,645.75 L481.09,643.91 L481.61,642.06 L482.14,640.2 L482.66,638.32 L483.18,636.45 L483.71,634.56 L484.23,632.66 L484.75,630.76 L485.28,628.85 L485.8,626.93 L486.32,625 L486.85,623.07 L487.37,621.14 L487.89,619.2 L488.41,617.25 L488.94,615.31 L489.46,613.35 L489.98,611.4 L490.51,609.44 L491.03,607.48 L491.55,605.52 L492.08,603.56 L492.6,601.6" fill="none" stroke="#E8343C" stroke-width="5.0" stroke-linejoin="round" /><path d="M74.1,601.6 L74.38,601.6 L74.66,601.6 L74.94,601.6 L75.22,601.6 L75.5,601.6M83.69,586.87 L84.32,585.71 L84.96,584.55 L85.6,583.4 L86.24,582.25 L86.89,581.09M94.74,567.85 L95.45,566.73 L96.17,565.63 L96.89,564.52 L97.62,563.42 L98.36,562.33M108.19,549.85 L109.11,548.9 L110.05,547.97 L111.01,547.07 L111.99,546.18 L112.99,545.33M127.79,539.02 L129.11,539.04 L130.42,539.17 L131.72,539.39 L133.01,539.69 L134.27,540.09M147.45,549.3 L148.36,550.25 L149.25,551.23 L150.12,552.22 L150.98,553.22 L151.82,554.24M161.19,567.47 L161.9,568.59 L162.59,569.71 L163.28,570.83 L163.97,571.96 L164.65,573.09M172.67,587.2 L173.3,588.36 L173.93,589.52 L174.56,590.68 L175.18,591.84 L175.81,593M183.45,607.32 L184.07,608.48 L184.69,609.64 L185.32,610.81 L185.94,611.97 L186.57,613.13M194.52,627.36 L195.19,628.5 L195.86,629.63 L196.54,630.76 L197.23,631.89 L197.91,633.02M207.17,646.67 L207.98,647.71 L208.81,648.74 L209.64,649.76 L210.5,650.77 L211.37,651.76M219.48,659.31 L220.56,660.07 L221.67,660.78 L222.81,661.44 L223.98,662.05 L225.18,662.6M236.63,663.75 L237.91,663.43 L239.17,663.01 L240.39,662.53 L241.59,661.98 L242.76,661.36M253.39,652.5 L254.28,651.52 L255.14,650.52 L255.99,649.51 L256.82,648.49 L257.64,647.45M266.3,634.97 L267,633.85 L267.69,632.72 L268.38,631.6 L269.06,630.47 L269.74,629.33M279.43,612.07 L280.05,610.91 L280.68,609.74 L281.3,608.58 L281.92,607.42 L282.55,606.25M287.8,591.02 L288.14,589.75 L288.48,588.47 L288.82,587.2 L289.15,585.92 L289.49,584.64M294.37,566.59 L294.72,565.32 L295.07,564.05 L295.42,562.77 L295.78,561.5 L296.13,560.23M300.98,543.41 L301.35,542.15 L301.73,540.89 L302.12,539.62 L302.5,538.36 L302.89,537.1M308.41,520.18 L308.84,518.93 L309.28,517.69 L309.73,516.44 L310.18,515.2 L310.63,513.96M317.46,497.53 L318.04,496.34 L318.63,495.16 L319.23,493.99 L319.84,492.82 L320.47,491.66M330.1,479.26 L331.18,478.5 L332.32,477.84 L333.53,477.31 L334.79,476.93 L336.09,476.73M349.57,486.01 L350.31,487.11 L351.02,488.22 L351.72,489.34 L352.39,490.48 L353.04,491.63M360.26,507.12 L360.75,508.35 L361.23,509.58 L361.71,510.81 L362.18,512.04 L362.64,513.28M368.23,529.45 L368.64,530.7 L369.04,531.96 L369.44,533.22 L369.83,534.48 L370.22,535.74M375.11,552.14 L375.47,553.41 L375.83,554.67 L376.2,555.94 L376.55,557.21 L376.91,558.49M381.45,574.98 L381.79,576.26 L382.14,577.53 L382.48,578.81 L382.82,580.08 L383.16,581.36M387.55,597.89 L387.89,599.17 L388.22,600.45 L388.56,601.72 L388.9,603 L389.23,604.27M393.62,620.81 L393.96,622.09 L394.3,623.36 L394.64,624.64 L394.98,625.91 L395.33,627.19M399.85,643.69 L400.21,644.96 L400.57,646.23 L400.93,647.5 L401.29,648.77 L401.65,650.04M406.51,666.44 L406.9,667.7 L407.3,668.96 L407.69,670.22 L408.09,671.48 L408.5,672.74M414.04,688.92 L414.5,690.16 L414.96,691.39 L415.44,692.63 L415.91,693.86 L416.4,695.08M423.5,710.64 L424.14,711.79 L424.79,712.94 L425.47,714.07 L426.16,715.2 L426.88,716.3M436.14,725.51 L437.36,726 L438.63,726.34 L439.95,726.49 L441.26,726.44 L442.56,726.2M453.14,717.31 L453.89,716.22 L454.61,715.11 L455.31,714 L455.99,712.86 L456.65,711.72M463.91,696.36 L464.41,695.14 L464.9,693.91 L465.38,692.68 L465.86,691.45 L466.33,690.22M471.95,674.18 L472.36,672.92 L472.77,671.67 L473.17,670.41 L473.57,669.15 L473.97,667.89M478.88,651.62 L479.25,650.35 L479.61,649.08 L479.98,647.81 L480.34,646.54 L480.7,645.27M485.26,628.9 L485.61,627.62 L485.96,626.35 L486.3,625.08 L486.65,623.8 L486.99,622.53M491.4,606.11 L491.64,605.21 L491.88,604.31 L492.12,603.4 L492.36,602.5 L492.6,601.6" fill="none" stroke="#1F5BB0" stroke-width="5.0"/></g>
</g>
<rect x="74.1" y="433.2" width="418.5" height="336.8" fill="none" stroke="#000" stroke-width="1.8"/>
<clipPath id="clipB"><rect x="74.1" y="433.2" width="418.5" height="336.8"/></clipPath>
<rect x="315.6" y="711.2" width="41.9" height="27.1" fill="none" stroke="#000" stroke-width="1.7"/>
<rect x="420.4" y="714.1" width="41.3" height="26.9" fill="none" stroke="#000" stroke-width="1.7"/>
<line x1="105.8" y1="448.7" x2="143.3" y2="448.7" stroke="#E8343C" stroke-width="4" stroke-linecap="round"/>
<text transform="translate(151.8,454.4) scale(1.0,1.0)" font-size="15.5" text-anchor="start" >1 P</text>
<line x1="185.1" y1="448.6" x2="221.5" y2="448.6" stroke="#C98F2A" stroke-width="4" stroke-linecap="round"/>
<text transform="translate(229.5,454.4) scale(1.0,1.0)" font-size="15.3" text-anchor="start" >420 P</text>
<path d="M280.8,449h3.7M305.5,449h4" stroke="#1F5BB0" stroke-width="4" stroke-linecap="round"/>
<text transform="translate(327,454.4) scale(1.0,1.0)" font-size="15.4" text-anchor="start" >1 AP</text>
<path d="M370.8,448.6h3.8M395.5,448.6h4" stroke="#35A86A" stroke-width="4" stroke-linecap="round"/>
<text transform="translate(416.4,454.4) scale(1.0,1.0)" font-size="15.6" text-anchor="start" >420 AP</text>
<rect x="99" y="666" width="118.1" height="90.2" fill="#fff" stroke="#000" stroke-width="1.6"/>
<clipPath id="clipI1"><rect x="99" y="666" width="59.099999999999994" height="90.20000000000005"/></clipPath>
<clipPath id="clipI2"><rect x="158.1" y="666" width="59.0" height="90.20000000000005"/></clipPath>
<g clip-path="url(#clipI1)"><path d="M89.35,343.06 L89.74,350.44 L90.13,357.76 L90.52,365.02 L90.91,372.2 L91.29,379.33 L91.68,386.38 L92.07,393.37 L92.46,400.3 L92.85,407.16 L93.24,413.95 L93.63,420.67 L94.02,427.32 L94.41,433.91 L94.8,440.43 L95.18,446.88 L95.57,453.27 L95.96,459.58 L96.35,465.83 L96.74,472 L97.13,478.11 L97.52,484.14 L97.91,490.11 L98.3,496 L98.68,501.83 L99.07,507.58 L99.46,513.27 L99.85,518.88 L100.24,524.42 L100.63,529.89 L101.02,535.29 L101.41,540.61 L101.8,545.86 L102.19,551.04 L102.57,556.15 L102.96,561.19 L103.35,566.15 L103.74,571.03 L104.13,575.85 L104.52,580.59 L104.91,585.26 L105.3,589.85 L105.69,594.37 L106.07,598.81 L106.46,603.18 L106.85,607.47 L107.24,611.69 L107.63,615.84 L108.02,619.91 L108.41,623.9 L108.8,627.82 L109.19,631.66 L109.58,635.42 L109.96,639.11 L110.35,642.73 L110.74,646.26 L111.13,649.73 L111.52,653.11 L111.91,656.42 L112.3,659.65 L112.69,662.8 L113.08,665.87 L113.46,668.87 L113.85,671.79 L114.24,674.64 L114.63,677.4 L115.02,680.09 L115.41,682.7 L115.8,685.23 L116.19,687.69 L116.58,690.06 L116.97,692.36 L117.35,694.58 L117.74,696.72 L118.13,698.78 L118.52,700.77 L118.91,702.67 L119.3,704.5 L119.69,706.24 L120.08,707.91 L120.47,709.5 L120.85,711.01 L121.24,712.44 L121.63,713.79 L122.02,715.07 L122.41,716.26 L122.8,717.37 L123.19,718.41 L123.58,719.36 L123.97,720.24 L124.36,721.04 L124.74,721.75 L125.13,722.39 L125.52,722.95 L125.91,723.43 L126.3,723.82 L126.69,724.14 L127.08,724.38 L127.47,724.54 L127.86,724.62 L128.24,724.62 L128.63,724.54 L129.02,724.38 L129.41,724.14 L129.8,723.82 L130.19,723.43 L130.58,722.95 L130.97,722.39 L131.36,721.75 L131.74,721.04 L132.13,720.24 L132.52,719.36 L132.91,718.41 L133.3,717.37 L133.69,716.26 L134.08,715.07 L134.47,713.79 L134.86,712.44 L135.25,711.01 L135.63,709.5 L136.02,707.91 L136.41,706.24 L136.8,704.5 L137.19,702.67 L137.58,700.77 L137.97,698.78 L138.36,696.72 L138.75,694.58 L139.13,692.36 L139.52,690.06 L139.91,687.69 L140.3,685.23 L140.69,682.7 L141.08,680.09 L141.47,677.4 L141.86,674.64 L142.25,671.79 L142.64,668.87 L143.02,665.87 L143.41,662.8 L143.8,659.65 L144.19,656.42 L144.58,653.11 L144.97,649.73 L145.36,646.26 L145.75,642.73 L146.14,639.11 L146.52,635.42 L146.91,631.66 L147.3,627.82 L147.69,623.9 L148.08,619.91 L148.47,615.84 L148.86,611.69 L149.25,607.47 L149.64,603.18 L150.03,598.81 L150.41,594.37 L150.8,589.85 L151.19,585.26 L151.58,580.59 L151.97,575.85 L152.36,571.03 L152.75,566.15 L153.14,561.19 L153.53,556.15 L153.91,551.04 L154.3,545.86 L154.69,540.61 L155.08,535.29 L155.47,529.89 L155.86,524.42 L156.25,518.88 L156.64,513.27 L157.03,507.58 L157.42,501.83 L157.8,496 L158.19,490.11 L158.58,484.14 L158.97,478.11 L159.36,472 L159.75,465.83 L160.14,459.58 L160.53,453.27 L160.92,446.88 L161.3,440.43 L161.69,433.91 L162.08,427.32 L162.47,420.67 L162.86,413.95 L163.25,407.16 L163.64,400.3 L164.03,393.37 L164.42,386.38 L164.81,379.33 L165.19,372.2 L165.58,365.02 L165.97,357.76 L166.36,350.44 L166.75,343.06" fill="none" stroke="#C98F2A" stroke-width="1.6" stroke-linejoin="round" /><path d="M89.35,343.06 L89.74,350.44 L90.13,357.76 L90.52,365.02 L90.91,372.2 L91.29,379.33 L91.68,386.38 L92.07,393.37 L92.46,400.3 L92.85,407.16 L93.24,413.95 L93.63,420.67 L94.02,427.32 L94.41,433.91 L94.8,440.43 L95.18,446.88 L95.57,453.27 L95.96,459.58 L96.35,465.83 L96.74,472 L97.13,478.11 L97.52,484.14 L97.91,490.11 L98.3,496 L98.68,501.83 L99.07,507.58 L99.46,513.27 L99.85,518.88 L100.24,524.42 L100.63,529.89 L101.02,535.29 L101.41,540.61 L101.8,545.86 L102.19,551.04 L102.57,556.15 L102.96,561.19 L103.35,566.15 L103.74,571.03 L104.13,575.85 L104.52,580.59 L104.91,585.26 L105.3,589.85 L105.69,594.37 L106.07,598.81 L106.46,603.18 L106.85,607.47 L107.24,611.69 L107.63,615.84 L108.02,619.91 L108.41,623.9 L108.8,627.82 L109.19,631.66 L109.58,635.42 L109.96,639.11 L110.35,642.73 L110.74,646.26 L111.13,649.73 L111.52,653.11 L111.91,656.42 L112.3,659.65 L112.69,662.8 L113.08,665.87 L113.46,668.87 L113.85,671.79 L114.24,674.64 L114.63,677.4 L115.02,680.09 L115.41,682.7 L115.8,685.23 L116.19,687.69 L116.58,690.06 L116.97,692.36 L117.35,694.58 L117.74,696.72 L118.13,698.78 L118.52,700.77 L118.91,702.67 L119.3,704.5 L119.69,706.24 L120.08,707.91 L120.47,709.5 L120.85,711.01 L121.24,712.44 L121.63,713.79 L122.02,715.07 L122.41,716.26 L122.8,717.37 L123.19,718.41 L123.58,719.36 L123.97,720.24 L124.36,721.04 L124.74,721.75 L125.13,722.39 L125.52,722.95 L125.91,723.43 L126.3,723.82 L126.69,724.14 L127.08,724.38 L127.47,724.54 L127.86,724.62 L128.24,724.62 L128.63,724.54 L129.02,724.38 L129.41,724.14 L129.8,723.82 L130.19,723.43 L130.58,722.95 L130.97,722.39 L131.36,721.75 L131.74,721.04 L132.13,720.24 L132.52,719.36 L132.91,718.41 L133.3,717.37 L133.69,716.26 L134.08,715.07 L134.47,713.79 L134.86,712.44 L135.25,711.01 L135.63,709.5 L136.02,707.91 L136.41,706.24 L136.8,704.5 L137.19,702.67 L137.58,700.77 L137.97,698.78 L138.36,696.72 L138.75,694.58 L139.13,692.36 L139.52,690.06 L139.91,687.69 L140.3,685.23 L140.69,682.7 L141.08,680.09 L141.47,677.4 L141.86,674.64 L142.25,671.79 L142.64,668.87 L143.02,665.87 L143.41,662.8 L143.8,659.65 L144.19,656.42 L144.58,653.11 L144.97,649.73 L145.36,646.26 L145.75,642.73 L146.14,639.11 L146.52,635.42 L146.91,631.66 L147.3,627.82 L147.69,623.9 L148.08,619.91 L148.47,615.84 L148.86,611.69 L149.25,607.47 L149.64,603.18 L150.03,598.81 L150.41,594.37 L150.8,589.85 L151.19,585.26 L151.58,580.59 L151.97,575.85 L152.36,571.03 L152.75,566.15 L153.14,561.19 L153.53,556.15 L153.91,551.04 L154.3,545.86 L154.69,540.61 L155.08,535.29 L155.47,529.89 L155.86,524.42 L156.25,518.88 L156.64,513.27 L157.03,507.58 L157.42,501.83 L157.8,496 L158.19,490.11 L158.58,484.14 L158.97,478.11 L159.36,472 L159.75,465.83 L160.14,459.58 L160.53,453.27 L160.92,446.88 L161.3,440.43 L161.69,433.91 L162.08,427.32 L162.47,420.67 L162.86,413.95 L163.25,407.16 L163.64,400.3 L164.03,393.37 L164.42,386.38 L164.81,379.33 L165.19,372.2 L165.58,365.02 L165.97,357.76 L166.36,350.44 L166.75,343.06" fill="none" stroke="#2f9a66" stroke-width="2.2" stroke-linejoin="round" stroke-dasharray="0.1 9" stroke-linecap="round"/></g>
<g clip-path="url(#clipI2)"><path d="M148.8,352.55 L149.2,359.97 L149.6,367.33 L149.99,374.63 L150.39,381.86 L150.79,389.03 L151.19,396.12 L151.59,403.16 L151.98,410.12 L152.38,417.02 L152.78,423.85 L153.18,430.61 L153.58,437.31 L153.97,443.93 L154.37,450.49 L154.77,456.98 L155.17,463.4 L155.57,469.75 L155.96,476.03 L156.36,482.24 L156.76,488.39 L157.16,494.46 L157.56,500.46 L157.95,506.39 L158.35,512.25 L158.75,518.04 L159.15,523.75 L159.55,529.4 L159.94,534.97 L160.34,540.47 L160.74,545.9 L161.14,551.26 L161.54,556.54 L161.93,561.75 L162.33,566.89 L162.73,571.95 L163.13,576.94 L163.53,581.86 L163.92,586.7 L164.32,591.47 L164.72,596.16 L165.12,600.78 L165.52,605.33 L165.91,609.8 L166.31,614.19 L166.71,618.51 L167.11,622.76 L167.51,626.92 L167.9,631.02 L168.3,635.03 L168.7,638.97 L169.1,642.84 L169.5,646.63 L169.89,650.34 L170.29,653.97 L170.69,657.53 L171.09,661.01 L171.49,664.42 L171.88,667.74 L172.28,670.99 L172.68,674.16 L173.08,677.26 L173.48,680.27 L173.87,683.21 L174.27,686.07 L174.67,688.85 L175.07,691.56 L175.47,694.18 L175.86,696.73 L176.26,699.2 L176.66,701.59 L177.06,703.9 L177.46,706.13 L177.85,708.28 L178.25,710.36 L178.65,712.35 L179.05,714.27 L179.45,716.11 L179.84,717.86 L180.24,719.54 L180.64,721.14 L181.04,722.66 L181.44,724.1 L181.83,725.46 L182.23,726.74 L182.63,727.94 L183.03,729.06 L183.43,730.1 L183.82,731.06 L184.22,731.94 L184.62,732.74 L185.02,733.46 L185.42,734.1 L185.81,734.66 L186.21,735.14 L186.61,735.54 L187.01,735.87 L187.41,736.11 L187.8,736.27 L188.2,736.35 L188.6,736.35 L189,736.27 L189.39,736.11 L189.79,735.87 L190.19,735.54 L190.59,735.14 L190.99,734.66 L191.38,734.1 L191.78,733.46 L192.18,732.74 L192.58,731.94 L192.98,731.06 L193.37,730.1 L193.77,729.06 L194.17,727.94 L194.57,726.74 L194.97,725.46 L195.36,724.1 L195.76,722.66 L196.16,721.14 L196.56,719.54 L196.96,717.86 L197.35,716.11 L197.75,714.27 L198.15,712.35 L198.55,710.36 L198.95,708.28 L199.34,706.13 L199.74,703.9 L200.14,701.59 L200.54,699.2 L200.94,696.73 L201.33,694.18 L201.73,691.56 L202.13,688.85 L202.53,686.07 L202.93,683.21 L203.32,680.27 L203.72,677.26 L204.12,674.16 L204.52,670.99 L204.92,667.74 L205.31,664.42 L205.71,661.01 L206.11,657.53 L206.51,653.97 L206.91,650.34 L207.3,646.63 L207.7,642.84 L208.1,638.97 L208.5,635.03 L208.9,631.02 L209.29,626.92 L209.69,622.76 L210.09,618.51 L210.49,614.19 L210.89,609.8 L211.28,605.33 L211.68,600.78 L212.08,596.16 L212.48,591.47 L212.88,586.7 L213.27,581.86 L213.67,576.94 L214.07,571.95 L214.47,566.89 L214.87,561.75 L215.26,556.54 L215.66,551.26 L216.06,545.9 L216.46,540.47 L216.86,534.97 L217.25,529.4 L217.65,523.75 L218.05,518.04 L218.45,512.25 L218.85,506.39 L219.24,500.46 L219.64,494.46 L220.04,488.39 L220.44,482.24 L220.84,476.03 L221.23,469.75 L221.63,463.4 L222.03,456.98 L222.43,450.49 L222.83,443.93 L223.22,437.31 L223.62,430.61 L224.02,423.85 L224.42,417.02 L224.82,410.12 L225.21,403.16 L225.61,396.12 L226.01,389.03 L226.41,381.86 L226.81,374.63 L227.2,367.33 L227.6,359.97 L228,352.55" fill="none" stroke="#E8343C" stroke-width="1.6" stroke-linejoin="round" /><path d="M148.8,352.55 L149.2,359.97 L149.6,367.33 L149.99,374.63 L150.39,381.86 L150.79,389.03 L151.19,396.12 L151.59,403.16 L151.98,410.12 L152.38,417.02 L152.78,423.85 L153.18,430.61 L153.58,437.31 L153.97,443.93 L154.37,450.49 L154.77,456.98 L155.17,463.4 L155.57,469.75 L155.96,476.03 L156.36,482.24 L156.76,488.39 L157.16,494.46 L157.56,500.46 L157.95,506.39 L158.35,512.25 L158.75,518.04 L159.15,523.75 L159.55,529.4 L159.94,534.97 L160.34,540.47 L160.74,545.9 L161.14,551.26 L161.54,556.54 L161.93,561.75 L162.33,566.89 L162.73,571.95 L163.13,576.94 L163.53,581.86 L163.92,586.7 L164.32,591.47 L164.72,596.16 L165.12,600.78 L165.52,605.33 L165.91,609.8 L166.31,614.19 L166.71,618.51 L167.11,622.76 L167.51,626.92 L167.9,631.02 L168.3,635.03 L168.7,638.97 L169.1,642.84 L169.5,646.63 L169.89,650.34 L170.29,653.97 L170.69,657.53 L171.09,661.01 L171.49,664.42 L171.88,667.74 L172.28,670.99 L172.68,674.16 L173.08,677.26 L173.48,680.27 L173.87,683.21 L174.27,686.07 L174.67,688.85 L175.07,691.56 L175.47,694.18 L175.86,696.73 L176.26,699.2 L176.66,701.59 L177.06,703.9 L177.46,706.13 L177.85,708.28 L178.25,710.36 L178.65,712.35 L179.05,714.27 L179.45,716.11 L179.84,717.86 L180.24,719.54 L180.64,721.14 L181.04,722.66 L181.44,724.1 L181.83,725.46 L182.23,726.74 L182.63,727.94 L183.03,729.06 L183.43,730.1 L183.82,731.06 L184.22,731.94 L184.62,732.74 L185.02,733.46 L185.42,734.1 L185.81,734.66 L186.21,735.14 L186.61,735.54 L187.01,735.87 L187.41,736.11 L187.8,736.27 L188.2,736.35 L188.6,736.35 L189,736.27 L189.39,736.11 L189.79,735.87 L190.19,735.54 L190.59,735.14 L190.99,734.66 L191.38,734.1 L191.78,733.46 L192.18,732.74 L192.58,731.94 L192.98,731.06 L193.37,730.1 L193.77,729.06 L194.17,727.94 L194.57,726.74 L194.97,725.46 L195.36,724.1 L195.76,722.66 L196.16,721.14 L196.56,719.54 L196.96,717.86 L197.35,716.11 L197.75,714.27 L198.15,712.35 L198.55,710.36 L198.95,708.28 L199.34,706.13 L199.74,703.9 L200.14,701.59 L200.54,699.2 L200.94,696.73 L201.33,694.18 L201.73,691.56 L202.13,688.85 L202.53,686.07 L202.93,683.21 L203.32,680.27 L203.72,677.26 L204.12,674.16 L204.52,670.99 L204.92,667.74 L205.31,664.42 L205.71,661.01 L206.11,657.53 L206.51,653.97 L206.91,650.34 L207.3,646.63 L207.7,642.84 L208.1,638.97 L208.5,635.03 L208.9,631.02 L209.29,626.92 L209.69,622.76 L210.09,618.51 L210.49,614.19 L210.89,609.8 L211.28,605.33 L211.68,600.78 L212.08,596.16 L212.48,591.47 L212.88,586.7 L213.27,581.86 L213.67,576.94 L214.07,571.95 L214.47,566.89 L214.87,561.75 L215.26,556.54 L215.66,551.26 L216.06,545.9 L216.46,540.47 L216.86,534.97 L217.25,529.4 L217.65,523.75 L218.05,518.04 L218.45,512.25 L218.85,506.39 L219.24,500.46 L219.64,494.46 L220.04,488.39 L220.44,482.24 L220.84,476.03 L221.23,469.75 L221.63,463.4 L222.03,456.98 L222.43,450.49 L222.83,443.93 L223.22,437.31 L223.62,430.61 L224.02,423.85 L224.42,417.02 L224.82,410.12 L225.21,403.16 L225.61,396.12 L226.01,389.03 L226.41,381.86 L226.81,374.63 L227.2,367.33 L227.6,359.97 L228,352.55" fill="none" stroke="#1F5BB0" stroke-width="2.2" stroke-linejoin="round" stroke-dasharray="0.1 9" stroke-linecap="round"/></g>
<line x1="158.1" y1="666" x2="158.1" y2="756.2" stroke="#000" stroke-width="2.8"/>
<text transform="translate(96.1,669.8) scale(1.0,1.0)" font-size="10.5" text-anchor="end" letter-spacing="-0.3" stroke="#000" stroke-width="0.3">-4.3</text>
<line x1="97.4" y1="666" x2="99" y2="666" stroke="#000" stroke-width="1.2"/>
<text transform="translate(96.1,714.9) scale(1.0,1.0)" font-size="10.5" text-anchor="end" letter-spacing="-0.3" stroke="#000" stroke-width="0.3">-4.4</text>
<line x1="97.4" y1="711.1" x2="99" y2="711.1" stroke="#000" stroke-width="1.2"/>
<text transform="translate(96.1,760) scale(1.0,1.0)" font-size="10.5" text-anchor="end" letter-spacing="-0.3" stroke="#000" stroke-width="0.3">-4.5</text>
<line x1="97.4" y1="756.2" x2="99" y2="756.2" stroke="#000" stroke-width="1.2"/>
<text transform="translate(108.8,767.4) scale(1.0,1.0)" font-size="10.2" text-anchor="middle" stroke="#000" stroke-width="0.3">0.12</text>
<text transform="translate(147.6,767.4) scale(1.0,1.0)" font-size="10.2" text-anchor="middle" stroke="#000" stroke-width="0.3">0.13</text>
<text transform="translate(168.6,767.4) scale(1.0,1.0)" font-size="10.2" text-anchor="middle" stroke="#000" stroke-width="0.3">0.17</text>
<text transform="translate(208.2,767.4) scale(1.0,1.0)" font-size="10.2" text-anchor="middle" stroke="#000" stroke-width="0.3">0.18</text>
<rect x="73.2" y="854.2" width="422.2" height="340.4" fill="none" stroke="#000" stroke-width="1.8"/>
<path d="M73.2,1194.6v6.4M284.3,1194.6v6.4M495.4,1194.6v6.4M178.75,1194.6v3.4M389.85,1194.6v3.4M73.2,1173.32h-6.4M73.2,1109.5h-6.4M73.2,1045.67h-6.4M73.2,981.85h-6.4M73.2,918.02h-6.4M73.2,854.2h-6.4M73.2,1141.41h-3.4M73.2,1077.59h-3.4M73.2,1013.76h-3.4M73.2,949.94h-3.4M73.2,886.11h-3.4" stroke="#000" stroke-width="1.6" fill="none"/>
<text transform="translate(62,1182.22) scale(1.0,1.08)" font-size="28" text-anchor="end" >-6</text>
<text transform="translate(62,1118.4) scale(1.0,1.08)" font-size="28" text-anchor="end" >-3</text>
<text transform="translate(62,1054.58) scale(1.0,1.08)" font-size="28" text-anchor="end" >0</text>
<text transform="translate(62,990.75) scale(1.0,1.08)" font-size="28" text-anchor="end" >3</text>
<text transform="translate(62,926.92) scale(1.0,1.08)" font-size="28" text-anchor="end" >6</text>
<text transform="translate(62,863.1) scale(1.0,1.08)" font-size="28" text-anchor="end" >9</text>
<text transform="translate(73.2,1227.6) scale(1.0,1.08)" font-size="28" text-anchor="middle" >3.0</text>
<text transform="translate(284.3,1227.6) scale(1.0,1.08)" font-size="28" text-anchor="middle" >3.5</text>
<text transform="translate(495.4,1227.6) scale(1.0,1.08)" font-size="28" text-anchor="middle" >4.0</text>
<text transform="translate(283.5,1260) scale(1.0,1.04)" font-size="28" text-anchor="middle" >Time (ns)</text>
<text transform="translate(2.3,865.3) scale(1.0,1.04)" font-size="28" text-anchor="start" >(c)</text>
<text transform="translate(29.4,1081.6) rotate(-90) scale(1.017,1.05)" font-size="28">J<tspan font-size="19" dy="7.4">S</tspan><tspan font-size="19" dy="-19.3">Z</tspan><tspan dy="11.9">(10</tspan><tspan font-size="19" dy="-11.9">7</tspan><tspan dy="11.9"> s</tspan><tspan font-size="19" dy="-11.9">-1</tspan><tspan dy="11.9">)</tspan></text>
<clipPath id="clipC"><rect x="73.2" y="854.2" width="422.2" height="340.4"/></clipPath>
<g clip-path="url(#clipC)">
<path d="M73.2,1063.98 L73.41,1060.04 L73.62,1056.06 L73.83,1052.06 L74.04,1048.03 L74.26,1043.97 L74.47,1039.9 L74.68,1035.81 L74.89,1031.71 L75.1,1027.61 L75.31,1023.5 L75.52,1019.4 L75.73,1015.3 L75.94,1011.21 L76.16,1007.13 L76.37,1003.07 L76.58,999.04 L76.79,995.02 L77,991.04 L77.21,987.1 L77.42,983.19 L77.63,979.32 L77.84,975.49 L78.06,971.72 L78.27,968 L78.48,964.33 L78.69,960.73 L78.9,957.19 L79.11,953.71 L79.32,950.31 L79.53,946.98 L79.74,943.72 L79.96,940.55 L80.17,937.46 L80.38,934.46 L80.59,931.55 L80.8,928.73 L81.01,926 L81.22,923.37 L81.43,920.85 L81.64,918.42 L81.86,916.1 L82.07,913.89 L82.28,911.79 L82.49,909.8 L82.7,907.92 L82.91,906.16 L83.12,904.52 L83.33,903 L83.54,901.59 L83.75,900.31 L83.97,899.15 L84.18,898.12 L84.39,897.21 L84.6,896.43 L84.81,895.77 L85.02,895.24 L85.23,894.85 L85.44,894.57 L85.65,894.43 L85.87,894.42 L86.08,894.54 L86.29,894.78 L86.5,895.15 L86.71,895.66 L86.92,896.29 L87.13,897.04 L87.34,897.93 L87.55,898.94 L87.77,900.07 L87.98,901.33 L88.19,902.7 L88.4,904.2 L88.61,905.82 L88.82,907.56 L89.03,909.41 L89.24,911.38 L89.45,913.46 L89.67,915.65 L89.88,917.95 L90.09,920.35 L90.3,922.86 L90.51,925.47 L90.72,928.17 L90.93,930.98 L91.14,933.87 L91.35,936.86 L91.57,939.93 L91.78,943.08 L91.99,946.32 L92.2,949.64 L92.41,953.03 L92.62,956.49 L92.83,960.01 L93.04,963.61 L93.25,967.26 L93.47,970.97 L93.68,974.74 L93.89,978.55 L94.1,982.41 L94.31,986.31 L94.52,990.25 L94.73,994.23 L94.94,998.23 L95.15,1002.26 L95.37,1006.32 L95.58,1010.39 L95.79,1014.48 L96,1018.58 L96.21,1022.68 L96.42,1026.79 L96.63,1030.89 L96.84,1034.99 L97.05,1039.08 L97.27,1043.16 L97.48,1047.22 L97.69,1051.25 L97.9,1055.26 L98.11,1059.25 L98.32,1063.19 L98.53,1067.1 L98.74,1070.97 L98.95,1074.79 L99.17,1078.57 L99.38,1082.29 L99.59,1085.96 L99.8,1089.56 L100.01,1093.1 L100.22,1096.58 L100.43,1099.98 L100.64,1103.31 L100.85,1106.56 L101.07,1109.74 L101.28,1112.83 L101.49,1115.83 L101.7,1118.74 L101.91,1121.56 L102.12,1124.29 L102.33,1126.92 L102.54,1129.44 L102.75,1131.87 L102.97,1134.19 L103.18,1136.4 L103.39,1138.5 L103.6,1140.49 L103.81,1142.37 L104.02,1144.13 L104.23,1145.77 L104.44,1147.29 L104.65,1148.7 L104.87,1149.98 L105.08,1151.14 L105.29,1152.17 L105.5,1153.08 L105.71,1153.86 L105.92,1154.52 L106.13,1155.04 L106.34,1155.44 L106.55,1155.71 L106.76,1155.86 L106.98,1155.87 L107.19,1155.75 L107.4,1155.51 L107.61,1155.13 L107.82,1154.63 L108.03,1154 L108.24,1153.25 L108.45,1152.36 L108.66,1151.35 L108.88,1150.22 L109.09,1148.96 L109.3,1147.58 L109.51,1146.08 L109.72,1144.47 L109.93,1142.73 L110.14,1140.88 L110.35,1138.91 L110.56,1136.83 L110.78,1134.64 L110.99,1132.34 L111.2,1129.94 L111.41,1127.43 L111.62,1124.82 L111.83,1122.12 L112.04,1119.31 L112.25,1116.42 L112.46,1113.43 L112.68,1110.36 L112.89,1107.21 L113.1,1103.97 L113.31,1100.65 L113.52,1097.26 L113.73,1093.8 L113.94,1090.27 L114.15,1086.68 L114.36,1083.03 L114.58,1079.32 L114.79,1075.55 L115,1071.74 L115.21,1067.88 L115.42,1063.98 L115.63,1060.04 L115.84,1056.06 L116.05,1052.06 L116.26,1048.03 L116.48,1043.97 L116.69,1039.9 L116.9,1035.81 L117.11,1031.71 L117.32,1027.61 L117.53,1023.5 L117.74,1019.4 L117.95,1015.3 L118.16,1011.21 L118.38,1007.13 L118.59,1003.07 L118.8,999.04 L119.01,995.02 L119.22,991.04 L119.43,987.1 L119.64,983.19 L119.85,979.32 L120.06,975.49 L120.28,971.72 L120.49,968 L120.7,964.33 L120.91,960.73 L121.12,957.19 L121.33,953.71 L121.54,950.31 L121.75,946.98 L121.96,943.72 L122.18,940.55 L122.39,937.46 L122.6,934.46 L122.81,931.55 L123.02,928.73 L123.23,926 L123.44,923.37 L123.65,920.85 L123.86,918.42 L124.08,916.1 L124.29,913.89 L124.5,911.79 L124.71,909.8 L124.92,907.92 L125.13,906.16 L125.34,904.52 L125.55,903 L125.76,901.59 L125.97,900.31 L126.19,899.15 L126.4,898.12 L126.61,897.21 L126.82,896.43 L127.03,895.77 L127.24,895.24 L127.45,894.85 L127.66,894.57 L127.87,894.43 L128.09,894.42 L128.3,894.54 L128.51,894.78 L128.72,895.15 L128.93,895.66 L129.14,896.29 L129.35,897.04 L129.56,897.93 L129.77,898.94 L129.99,900.07 L130.2,901.33 L130.41,902.7 L130.62,904.2 L130.83,905.82 L131.04,907.56 L131.25,909.41 L131.46,911.38 L131.67,913.46 L131.89,915.65 L132.1,917.95 L132.31,920.35 L132.52,922.86 L132.73,925.47 L132.94,928.17 L133.15,930.98 L133.36,933.87 L133.57,936.86 L133.79,939.93 L134,943.08 L134.21,946.32 L134.42,949.64 L134.63,953.03 L134.84,956.49 L135.05,960.01 L135.26,963.61 L135.47,967.26 L135.69,970.97 L135.9,974.74 L136.11,978.55 L136.32,982.41 L136.53,986.31 L136.74,990.25 L136.95,994.23 L137.16,998.23 L137.37,1002.26 L137.59,1006.32 L137.8,1010.39 L138.01,1014.48 L138.22,1018.58 L138.43,1022.68 L138.64,1026.79 L138.85,1030.89 L139.06,1034.99 L139.27,1039.08 L139.49,1043.16 L139.7,1047.22 L139.91,1051.25 L140.12,1055.26 L140.33,1059.25 L140.54,1063.19 L140.75,1067.1 L140.96,1070.97 L141.17,1074.79 L141.39,1078.57 L141.6,1082.29 L141.81,1085.96 L142.02,1089.56 L142.23,1093.1 L142.44,1096.58 L142.65,1099.98 L142.86,1103.31 L143.07,1106.56 L143.29,1109.74 L143.5,1112.83 L143.71,1115.83 L143.92,1118.74 L144.13,1121.56 L144.34,1124.29 L144.55,1126.92 L144.76,1129.44 L144.97,1131.87 L145.19,1134.19 L145.4,1136.4 L145.61,1138.5 L145.82,1140.49 L146.03,1142.37 L146.24,1144.13 L146.45,1145.77 L146.66,1147.29 L146.87,1148.7 L147.08,1149.98 L147.3,1151.14 L147.51,1152.17 L147.72,1153.08 L147.93,1153.86 L148.14,1154.52 L148.35,1155.04 L148.56,1155.44 L148.77,1155.71 L148.98,1155.86 L149.2,1155.87 L149.41,1155.75 L149.62,1155.51 L149.83,1155.13 L150.04,1154.63 L150.25,1154 L150.46,1153.25 L150.67,1152.36 L150.88,1151.35 L151.1,1150.22 L151.31,1148.96 L151.52,1147.58 L151.73,1146.08 L151.94,1144.47 L152.15,1142.73 L152.36,1140.88 L152.57,1138.91 L152.78,1136.83 L153,1134.64 L153.21,1132.34 L153.42,1129.94 L153.63,1127.43 L153.84,1124.82 L154.05,1122.12 L154.26,1119.31 L154.47,1116.42 L154.68,1113.43 L154.9,1110.36 L155.11,1107.21 L155.32,1103.97 L155.53,1100.65 L155.74,1097.26 L155.95,1093.8 L156.16,1090.27 L156.37,1086.68 L156.58,1083.03 L156.8,1079.32 L157.01,1075.55 L157.22,1071.74 L157.43,1067.88 L157.64,1063.98 L157.85,1060.04 L158.06,1056.06 L158.27,1052.06 L158.48,1048.03 L158.7,1043.97 L158.91,1039.9 L159.12,1035.81 L159.33,1031.71 L159.54,1027.61 L159.75,1023.5 L159.96,1019.4 L160.17,1015.3 L160.38,1011.21 L160.6,1007.13 L160.81,1003.07 L161.02,999.04 L161.23,995.02 L161.44,991.04 L161.65,987.1 L161.86,983.19 L162.07,979.32 L162.28,975.49 L162.5,971.72 L162.71,968 L162.92,964.33 L163.13,960.73 L163.34,957.19 L163.55,953.71 L163.76,950.31 L163.97,946.98 L164.18,943.72 L164.4,940.55 L164.61,937.46 L164.82,934.46 L165.03,931.55 L165.24,928.73 L165.45,926 L165.66,923.37 L165.87,920.85 L166.08,918.42 L166.3,916.1 L166.51,913.89 L166.72,911.79 L166.93,909.8 L167.14,907.92 L167.35,906.16 L167.56,904.52 L167.77,903 L167.98,901.59 L168.2,900.31 L168.41,899.15 L168.62,898.12 L168.83,897.21 L169.04,896.43 L169.25,895.77 L169.46,895.24 L169.67,894.85 L169.88,894.57 L170.09,894.43 L170.31,894.42 L170.52,894.54 L170.73,894.78 L170.94,895.15 L171.15,895.66 L171.36,896.29 L171.57,897.04 L171.78,897.93 L171.99,898.94 L172.21,900.07 L172.42,901.33 L172.63,902.7 L172.84,904.2 L173.05,905.82 L173.26,907.56 L173.47,909.41 L173.68,911.38 L173.89,913.46 L174.11,915.65 L174.32,917.95 L174.53,920.35 L174.74,922.86 L174.95,925.47 L175.16,928.17 L175.37,930.98 L175.58,933.87 L175.79,936.86 L176.01,939.93 L176.22,943.08 L176.43,946.32 L176.64,949.64 L176.85,953.03 L177.06,956.49 L177.27,960.01 L177.48,963.61 L177.69,967.26 L177.91,970.97 L178.12,974.74 L178.33,978.55 L178.54,982.41 L178.75,986.31 L178.96,990.25 L179.17,994.23 L179.38,998.23 L179.59,1002.26 L179.81,1006.32 L180.02,1010.39 L180.23,1014.48 L180.44,1018.58 L180.65,1022.68 L180.86,1026.79 L181.07,1030.89 L181.28,1034.99 L181.49,1039.08 L181.71,1043.16 L181.92,1047.22 L182.13,1051.25 L182.34,1055.26 L182.55,1059.25 L182.76,1063.19 L182.97,1067.1 L183.18,1070.97 L183.39,1074.79 L183.61,1078.57 L183.82,1082.29 L184.03,1085.96 L184.24,1089.56 L184.45,1093.1 L184.66,1096.58 L184.87,1099.98 L185.08,1103.31 L185.29,1106.56 L185.51,1109.74 L185.72,1112.83 L185.93,1115.83 L186.14,1118.74 L186.35,1121.56 L186.56,1124.29 L186.77,1126.92 L186.98,1129.44 L187.19,1131.87 L187.41,1134.19 L187.62,1136.4 L187.83,1138.5 L188.04,1140.49 L188.25,1142.37 L188.46,1144.13 L188.67,1145.77 L188.88,1147.29 L189.09,1148.7 L189.3,1149.98 L189.52,1151.14 L189.73,1152.17 L189.94,1153.08 L190.15,1153.86 L190.36,1154.52 L190.57,1155.04 L190.78,1155.44 L190.99,1155.71 L191.2,1155.86 L191.42,1155.87 L191.63,1155.75 L191.84,1155.51 L192.05,1155.13 L192.26,1154.63 L192.47,1154 L192.68,1153.25 L192.89,1152.36 L193.1,1151.35 L193.32,1150.22 L193.53,1148.96 L193.74,1147.58 L193.95,1146.08 L194.16,1144.47 L194.37,1142.73 L194.58,1140.88 L194.79,1138.91 L195,1136.83 L195.22,1134.64 L195.43,1132.34 L195.64,1129.94 L195.85,1127.43 L196.06,1124.82 L196.27,1122.12 L196.48,1119.31 L196.69,1116.42 L196.9,1113.43 L197.12,1110.36 L197.33,1107.21 L197.54,1103.97 L197.75,1100.65 L197.96,1097.26 L198.17,1093.8 L198.38,1090.27 L198.59,1086.68 L198.8,1083.03 L199.02,1079.32 L199.23,1075.55 L199.44,1071.74 L199.65,1067.88 L199.86,1063.98 L200.07,1060.04 L200.28,1056.06 L200.49,1052.06 L200.7,1048.03 L200.92,1043.97 L201.13,1039.9 L201.34,1035.81 L201.55,1031.71 L201.76,1027.61 L201.97,1023.5 L202.18,1019.4 L202.39,1015.3 L202.6,1011.21 L202.82,1007.13 L203.03,1003.07 L203.24,999.04 L203.45,995.02 L203.66,991.04 L203.87,987.1 L204.08,983.19 L204.29,979.32 L204.5,975.49 L204.72,971.72 L204.93,968 L205.14,964.33 L205.35,960.73 L205.56,957.19 L205.77,953.71 L205.98,950.31 L206.19,946.98 L206.4,943.72 L206.62,940.55 L206.83,937.46 L207.04,934.46 L207.25,931.55 L207.46,928.73 L207.67,926 L207.88,923.37 L208.09,920.85 L208.3,918.42 L208.52,916.1 L208.73,913.89 L208.94,911.79 L209.15,909.8 L209.36,907.92 L209.57,906.16 L209.78,904.52 L209.99,903 L210.2,901.59 L210.42,900.31 L210.63,899.15 L210.84,898.12 L211.05,897.21 L211.26,896.43 L211.47,895.77 L211.68,895.24 L211.89,894.85 L212.1,894.57 L212.31,894.43 L212.53,894.42 L212.74,894.54 L212.95,894.78 L213.16,895.15 L213.37,895.66 L213.58,896.29 L213.79,897.04 L214,897.93 L214.21,898.94 L214.43,900.07 L214.64,901.33 L214.85,902.7 L215.06,904.2 L215.27,905.82 L215.48,907.56 L215.69,909.41 L215.9,911.38 L216.11,913.46 L216.33,915.65 L216.54,917.95 L216.75,920.35 L216.96,922.86 L217.17,925.47 L217.38,928.17 L217.59,930.98 L217.8,933.87 L218.01,936.86 L218.23,939.93 L218.44,943.08 L218.65,946.32 L218.86,949.64 L219.07,953.03 L219.28,956.49 L219.49,960.01 L219.7,963.61 L219.91,967.26 L220.13,970.97 L220.34,974.74 L220.55,978.55 L220.76,982.41 L220.97,986.31 L221.18,990.25 L221.39,994.23 L221.6,998.23 L221.81,1002.26 L222.03,1006.32 L222.24,1010.39 L222.45,1014.48 L222.66,1018.58 L222.87,1022.68 L223.08,1026.79 L223.29,1030.89 L223.5,1034.99 L223.71,1039.08 L223.93,1043.16 L224.14,1047.22 L224.35,1051.25 L224.56,1055.26 L224.77,1059.25 L224.98,1063.19 L225.19,1067.1 L225.4,1070.97 L225.61,1074.79 L225.83,1078.57 L226.04,1082.29 L226.25,1085.96 L226.46,1089.56 L226.67,1093.1 L226.88,1096.58 L227.09,1099.98 L227.3,1103.31 L227.51,1106.56 L227.73,1109.74 L227.94,1112.83 L228.15,1115.83 L228.36,1118.74 L228.57,1121.56 L228.78,1124.29 L228.99,1126.92 L229.2,1129.44 L229.41,1131.87 L229.63,1134.19 L229.84,1136.4 L230.05,1138.5 L230.26,1140.49 L230.47,1142.37 L230.68,1144.13 L230.89,1145.77 L231.1,1147.29 L231.31,1148.7 L231.52,1149.98 L231.74,1151.14 L231.95,1152.17 L232.16,1153.08 L232.37,1153.86 L232.58,1154.52 L232.79,1155.04 L233,1155.44 L233.21,1155.71 L233.42,1155.86 L233.64,1155.87 L233.85,1155.75 L234.06,1155.51 L234.27,1155.13 L234.48,1154.63 L234.69,1154 L234.9,1153.25 L235.11,1152.36 L235.32,1151.35 L235.54,1150.22 L235.75,1148.96 L235.96,1147.58 L236.17,1146.08 L236.38,1144.47 L236.59,1142.73 L236.8,1140.88 L237.01,1138.91 L237.22,1136.83 L237.44,1134.64 L237.65,1132.34 L237.86,1129.94 L238.07,1127.43 L238.28,1124.82 L238.49,1122.12 L238.7,1119.31 L238.91,1116.42 L239.12,1113.43 L239.34,1110.36 L239.55,1107.21 L239.76,1103.97 L239.97,1100.65 L240.18,1097.26 L240.39,1093.8 L240.6,1090.27 L240.81,1086.68 L241.02,1083.03 L241.24,1079.32 L241.45,1075.55 L241.66,1071.74 L241.87,1067.88 L242.08,1063.98 L242.29,1060.04 L242.5,1056.06 L242.71,1052.06 L242.92,1048.03 L243.14,1043.97 L243.35,1039.9 L243.56,1035.81 L243.77,1031.71 L243.98,1027.61 L244.19,1023.5 L244.4,1019.4 L244.61,1015.3 L244.82,1011.21 L245.04,1007.13 L245.25,1003.07 L245.46,999.04 L245.67,995.02 L245.88,991.04 L246.09,987.1 L246.3,983.19 L246.51,979.32 L246.72,975.49 L246.94,971.72 L247.15,968 L247.36,964.33 L247.57,960.73 L247.78,957.19 L247.99,953.71 L248.2,950.31 L248.41,946.98 L248.62,943.72 L248.84,940.55 L249.05,937.46 L249.26,934.46 L249.47,931.55 L249.68,928.73 L249.89,926 L250.1,923.37 L250.31,920.85 L250.52,918.42 L250.74,916.1 L250.95,913.89 L251.16,911.79 L251.37,909.8 L251.58,907.92 L251.79,906.16 L252,904.52 L252.21,903 L252.42,901.59 L252.63,900.31 L252.85,899.15 L253.06,898.12 L253.27,897.21 L253.48,896.43 L253.69,895.77 L253.9,895.24 L254.11,894.85 L254.32,894.57 L254.53,894.43 L254.75,894.42 L254.96,894.54 L255.17,894.78 L255.38,895.15 L255.59,895.66 L255.8,896.29 L256.01,897.04 L256.22,897.93 L256.43,898.94 L256.65,900.07 L256.86,901.33 L257.07,902.7 L257.28,904.2 L257.49,905.82 L257.7,907.56 L257.91,909.41 L258.12,911.38 L258.33,913.46 L258.55,915.65 L258.76,917.95 L258.97,920.35 L259.18,922.86 L259.39,925.47 L259.6,928.17 L259.81,930.98 L260.02,933.87 L260.23,936.86 L260.45,939.93 L260.66,943.08 L260.87,946.32 L261.08,949.64 L261.29,953.03 L261.5,956.49 L261.71,960.01 L261.92,963.61 L262.13,967.26 L262.35,970.97 L262.56,974.74 L262.77,978.55 L262.98,982.41 L263.19,986.31 L263.4,990.25 L263.61,994.23 L263.82,998.23 L264.03,1002.26 L264.25,1006.32 L264.46,1010.39 L264.67,1014.48 L264.88,1018.58 L265.09,1022.68 L265.3,1026.79 L265.51,1030.89 L265.72,1034.99 L265.93,1039.08 L266.15,1043.16 L266.36,1047.22 L266.57,1051.25 L266.78,1055.26 L266.99,1059.25 L267.2,1063.19 L267.41,1067.1 L267.62,1070.97 L267.83,1074.79 L268.05,1078.57 L268.26,1082.29 L268.47,1085.96 L268.68,1089.56 L268.89,1093.1 L269.1,1096.58 L269.31,1099.98 L269.52,1103.31 L269.73,1106.56 L269.95,1109.74 L270.16,1112.83 L270.37,1115.83 L270.58,1118.74 L270.79,1121.56 L271,1124.29 L271.21,1126.92 L271.42,1129.44 L271.63,1131.87 L271.85,1134.19 L272.06,1136.4 L272.27,1138.5 L272.48,1140.49 L272.69,1142.37 L272.9,1144.13 L273.11,1145.77 L273.32,1147.29 L273.53,1148.7 L273.75,1149.98 L273.96,1151.14 L274.17,1152.17 L274.38,1153.08 L274.59,1153.86 L274.8,1154.52 L275.01,1155.04 L275.22,1155.44 L275.43,1155.71 L275.64,1155.86 L275.86,1155.87 L276.07,1155.75 L276.28,1155.51 L276.49,1155.13 L276.7,1154.63 L276.91,1154 L277.12,1153.25 L277.33,1152.36 L277.54,1151.35 L277.76,1150.22 L277.97,1148.96 L278.18,1147.58 L278.39,1146.08 L278.6,1144.47 L278.81,1142.73 L279.02,1140.88 L279.23,1138.91 L279.44,1136.83 L279.66,1134.64 L279.87,1132.34 L280.08,1129.94 L280.29,1127.43 L280.5,1124.82 L280.71,1122.12 L280.92,1119.31 L281.13,1116.42 L281.34,1113.43 L281.56,1110.36 L281.77,1107.21 L281.98,1103.97 L282.19,1100.65 L282.4,1097.26 L282.61,1093.8 L282.82,1090.27 L283.03,1086.68 L283.24,1083.03 L283.46,1079.32 L283.67,1075.55 L283.88,1071.74 L284.09,1067.88 L284.3,1063.98 L284.51,1060.04 L284.72,1056.06 L284.93,1052.06 L285.14,1048.03 L285.36,1043.97 L285.57,1039.9 L285.78,1035.81 L285.99,1031.71 L286.2,1027.61 L286.41,1023.5 L286.62,1019.4 L286.83,1015.3 L287.04,1011.21 L287.26,1007.13 L287.47,1003.07 L287.68,999.04 L287.89,995.02 L288.1,991.04 L288.31,987.1 L288.52,983.19 L288.73,979.32 L288.94,975.49 L289.16,971.72 L289.37,968 L289.58,964.33 L289.79,960.73 L290,957.19 L290.21,953.71 L290.42,950.31 L290.63,946.98 L290.84,943.72 L291.06,940.55 L291.27,937.46 L291.48,934.46 L291.69,931.55 L291.9,928.73 L292.11,926 L292.32,923.37 L292.53,920.85 L292.74,918.42 L292.96,916.1 L293.17,913.89 L293.38,911.79 L293.59,909.8 L293.8,907.92 L294.01,906.16 L294.22,904.52 L294.43,903 L294.64,901.59 L294.85,900.31 L295.07,899.15 L295.28,898.12 L295.49,897.21 L295.7,896.43 L295.91,895.77 L296.12,895.24 L296.33,894.85 L296.54,894.57 L296.75,894.43 L296.97,894.42 L297.18,894.54 L297.39,894.78 L297.6,895.15 L297.81,895.66 L298.02,896.29 L298.23,897.04 L298.44,897.93 L298.65,898.94 L298.87,900.07 L299.08,901.33 L299.29,902.7 L299.5,904.2 L299.71,905.82 L299.92,907.56 L300.13,909.41 L300.34,911.38 L300.55,913.46 L300.77,915.65 L300.98,917.95 L301.19,920.35 L301.4,922.86 L301.61,925.47 L301.82,928.17 L302.03,930.98 L302.24,933.87 L302.45,936.86 L302.67,939.93 L302.88,943.08 L303.09,946.32 L303.3,949.64 L303.51,953.03 L303.72,956.49 L303.93,960.01 L304.14,963.61 L304.35,967.26 L304.57,970.97 L304.78,974.74 L304.99,978.55 L305.2,982.41 L305.41,986.31 L305.62,990.25 L305.83,994.23 L306.04,998.23 L306.25,1002.26 L306.47,1006.32 L306.68,1010.39 L306.89,1014.48 L307.1,1018.58 L307.31,1022.68 L307.52,1026.79 L307.73,1030.89 L307.94,1034.99 L308.15,1039.08 L308.37,1043.16 L308.58,1047.22 L308.79,1051.25 L309,1055.26 L309.21,1059.25 L309.42,1063.19 L309.63,1067.1 L309.84,1070.97 L310.05,1074.79 L310.27,1078.57 L310.48,1082.29 L310.69,1085.96 L310.9,1089.56 L311.11,1093.1 L311.32,1096.58 L311.53,1099.98 L311.74,1103.31 L311.95,1106.56 L312.17,1109.74 L312.38,1112.83 L312.59,1115.83 L312.8,1118.74 L313.01,1121.56 L313.22,1124.29 L313.43,1126.92 L313.64,1129.44 L313.85,1131.87 L314.07,1134.19 L314.28,1136.4 L314.49,1138.5 L314.7,1140.49 L314.91,1142.37 L315.12,1144.13 L315.33,1145.77 L315.54,1147.29 L315.75,1148.7 L315.97,1149.98 L316.18,1151.14 L316.39,1152.17 L316.6,1153.08 L316.81,1153.86 L317.02,1154.52 L317.23,1155.04 L317.44,1155.44 L317.65,1155.71 L317.86,1155.86 L318.08,1155.87 L318.29,1155.75 L318.5,1155.51 L318.71,1155.13 L318.92,1154.63 L319.13,1154 L319.34,1153.25 L319.55,1152.36 L319.76,1151.35 L319.98,1150.22 L320.19,1148.96 L320.4,1147.58 L320.61,1146.08 L320.82,1144.47 L321.03,1142.73 L321.24,1140.88 L321.45,1138.91 L321.66,1136.83 L321.88,1134.64 L322.09,1132.34 L322.3,1129.94 L322.51,1127.43 L322.72,1124.82 L322.93,1122.12 L323.14,1119.31 L323.35,1116.42 L323.56,1113.43 L323.78,1110.36 L323.99,1107.21 L324.2,1103.97 L324.41,1100.65 L324.62,1097.26 L324.83,1093.8 L325.04,1090.27 L325.25,1086.68 L325.46,1083.03 L325.68,1079.32 L325.89,1075.55 L326.1,1071.74 L326.31,1067.88 L326.52,1063.98 L326.73,1060.04 L326.94,1056.06 L327.15,1052.06 L327.36,1048.03 L327.58,1043.97 L327.79,1039.9 L328,1035.81 L328.21,1031.71 L328.42,1027.61 L328.63,1023.5 L328.84,1019.4 L329.05,1015.3 L329.26,1011.21 L329.48,1007.13 L329.69,1003.07 L329.9,999.04 L330.11,995.02 L330.32,991.04 L330.53,987.1 L330.74,983.19 L330.95,979.32 L331.16,975.49 L331.38,971.72 L331.59,968 L331.8,964.33 L332.01,960.73 L332.22,957.19 L332.43,953.71 L332.64,950.31 L332.85,946.98 L333.06,943.72 L333.28,940.55 L333.49,937.46 L333.7,934.46 L333.91,931.55 L334.12,928.73 L334.33,926 L334.54,923.37 L334.75,920.85 L334.96,918.42 L335.18,916.1 L335.39,913.89 L335.6,911.79 L335.81,909.8 L336.02,907.92 L336.23,906.16 L336.44,904.52 L336.65,903 L336.86,901.59 L337.07,900.31 L337.29,899.15 L337.5,898.12 L337.71,897.21 L337.92,896.43 L338.13,895.77 L338.34,895.24 L338.55,894.85 L338.76,894.57 L338.97,894.43 L339.19,894.42 L339.4,894.54 L339.61,894.78 L339.82,895.15 L340.03,895.66 L340.24,896.29 L340.45,897.04 L340.66,897.93 L340.87,898.94 L341.09,900.07 L341.3,901.33 L341.51,902.7 L341.72,904.2 L341.93,905.82 L342.14,907.56 L342.35,909.41 L342.56,911.38 L342.77,913.46 L342.99,915.65 L343.2,917.95 L343.41,920.35 L343.62,922.86 L343.83,925.47 L344.04,928.17 L344.25,930.98 L344.46,933.87 L344.67,936.86 L344.89,939.93 L345.1,943.08 L345.31,946.32 L345.52,949.64 L345.73,953.03 L345.94,956.49 L346.15,960.01 L346.36,963.61 L346.57,967.26 L346.79,970.97 L347,974.74 L347.21,978.55 L347.42,982.41 L347.63,986.31 L347.84,990.25 L348.05,994.23 L348.26,998.23 L348.47,1002.26 L348.69,1006.32 L348.9,1010.39 L349.11,1014.48 L349.32,1018.58 L349.53,1022.68 L349.74,1026.79 L349.95,1030.89 L350.16,1034.99 L350.37,1039.08 L350.59,1043.16 L350.8,1047.22 L351.01,1051.25 L351.22,1055.26 L351.43,1059.25 L351.64,1063.19 L351.85,1067.1 L352.06,1070.97 L352.27,1074.79 L352.49,1078.57 L352.7,1082.29 L352.91,1085.96 L353.12,1089.56 L353.33,1093.1 L353.54,1096.58 L353.75,1099.98 L353.96,1103.31 L354.17,1106.56 L354.39,1109.74 L354.6,1112.83 L354.81,1115.83 L355.02,1118.74 L355.23,1121.56 L355.44,1124.29 L355.65,1126.92 L355.86,1129.44 L356.07,1131.87 L356.29,1134.19 L356.5,1136.4 L356.71,1138.5 L356.92,1140.49 L357.13,1142.37 L357.34,1144.13 L357.55,1145.77 L357.76,1147.29 L357.97,1148.7 L358.18,1149.98 L358.4,1151.14 L358.61,1152.17 L358.82,1153.08 L359.03,1153.86 L359.24,1154.52 L359.45,1155.04 L359.66,1155.44 L359.87,1155.71 L360.08,1155.86 L360.3,1155.87 L360.51,1155.75 L360.72,1155.51 L360.93,1155.13 L361.14,1154.63 L361.35,1154 L361.56,1153.25 L361.77,1152.36 L361.98,1151.35 L362.2,1150.22 L362.41,1148.96 L362.62,1147.58 L362.83,1146.08 L363.04,1144.47 L363.25,1142.73 L363.46,1140.88 L363.67,1138.91 L363.88,1136.83 L364.1,1134.64 L364.31,1132.34 L364.52,1129.94 L364.73,1127.43 L364.94,1124.82 L365.15,1122.12 L365.36,1119.31 L365.57,1116.42 L365.78,1113.43 L366,1110.36 L366.21,1107.21 L366.42,1103.97 L366.63,1100.65 L366.84,1097.26 L367.05,1093.8 L367.26,1090.27 L367.47,1086.68 L367.68,1083.03 L367.9,1079.32 L368.11,1075.55 L368.32,1071.74 L368.53,1067.88 L368.74,1063.98 L368.95,1060.04 L369.16,1056.06 L369.37,1052.06 L369.58,1048.03 L369.8,1043.97 L370.01,1039.9 L370.22,1035.81 L370.43,1031.71 L370.64,1027.61 L370.85,1023.5 L371.06,1019.4 L371.27,1015.3 L371.48,1011.21 L371.7,1007.13 L371.91,1003.07 L372.12,999.04 L372.33,995.02 L372.54,991.04 L372.75,987.1 L372.96,983.19 L373.17,979.32 L373.38,975.49 L373.6,971.72 L373.81,968 L374.02,964.33 L374.23,960.73 L374.44,957.19 L374.65,953.71 L374.86,950.31 L375.07,946.98 L375.28,943.72 L375.5,940.55 L375.71,937.46 L375.92,934.46 L376.13,931.55 L376.34,928.73 L376.55,926 L376.76,923.37 L376.97,920.85 L377.18,918.42 L377.4,916.1 L377.61,913.89 L377.82,911.79 L378.03,909.8 L378.24,907.92 L378.45,906.16 L378.66,904.52 L378.87,903 L379.08,901.59 L379.3,900.31 L379.51,899.15 L379.72,898.12 L379.93,897.21 L380.14,896.43 L380.35,895.77 L380.56,895.24 L380.77,894.85 L380.98,894.57 L381.19,894.43 L381.41,894.42 L381.62,894.54 L381.83,894.78 L382.04,895.15 L382.25,895.66 L382.46,896.29 L382.67,897.04 L382.88,897.93 L383.09,898.94 L383.31,900.07 L383.52,901.33 L383.73,902.7 L383.94,904.2 L384.15,905.82 L384.36,907.56 L384.57,909.41 L384.78,911.38 L384.99,913.46 L385.21,915.65 L385.42,917.95 L385.63,920.35 L385.84,922.86 L386.05,925.47 L386.26,928.17 L386.47,930.98 L386.68,933.87 L386.89,936.86 L387.11,939.93 L387.32,943.08 L387.53,946.32 L387.74,949.64 L387.95,953.03 L388.16,956.49 L388.37,960.01 L388.58,963.61 L388.79,967.26 L389.01,970.97 L389.22,974.74 L389.43,978.55 L389.64,982.41 L389.85,986.31 L390.06,990.25 L390.27,994.23 L390.48,998.23 L390.69,1002.26 L390.91,1006.32 L391.12,1010.39 L391.33,1014.48 L391.54,1018.58 L391.75,1022.68 L391.96,1026.79 L392.17,1030.89 L392.38,1034.99 L392.59,1039.08 L392.81,1043.16 L393.02,1047.22 L393.23,1051.25 L393.44,1055.26 L393.65,1059.25 L393.86,1063.19 L394.07,1067.1 L394.28,1070.97 L394.49,1074.79 L394.71,1078.57 L394.92,1082.29 L395.13,1085.96 L395.34,1089.56 L395.55,1093.1 L395.76,1096.58 L395.97,1099.98 L396.18,1103.31 L396.39,1106.56 L396.61,1109.74 L396.82,1112.83 L397.03,1115.83 L397.24,1118.74 L397.45,1121.56 L397.66,1124.29 L397.87,1126.92 L398.08,1129.44 L398.29,1131.87 L398.51,1134.19 L398.72,1136.4 L398.93,1138.5 L399.14,1140.49 L399.35,1142.37 L399.56,1144.13 L399.77,1145.77 L399.98,1147.29 L400.19,1148.7 L400.4,1149.98 L400.62,1151.14 L400.83,1152.17 L401.04,1153.08 L401.25,1153.86 L401.46,1154.52 L401.67,1155.04 L401.88,1155.44 L402.09,1155.71 L402.3,1155.86 L402.52,1155.87 L402.73,1155.75 L402.94,1155.51 L403.15,1155.13 L403.36,1154.63 L403.57,1154 L403.78,1153.25 L403.99,1152.36 L404.2,1151.35 L404.42,1150.22 L404.63,1148.96 L404.84,1147.58 L405.05,1146.08 L405.26,1144.47 L405.47,1142.73 L405.68,1140.88 L405.89,1138.91 L406.1,1136.83 L406.32,1134.64 L406.53,1132.34 L406.74,1129.94 L406.95,1127.43 L407.16,1124.82 L407.37,1122.12 L407.58,1119.31 L407.79,1116.42 L408,1113.43 L408.22,1110.36 L408.43,1107.21 L408.64,1103.97 L408.85,1100.65 L409.06,1097.26 L409.27,1093.8 L409.48,1090.27 L409.69,1086.68 L409.9,1083.03 L410.12,1079.32 L410.33,1075.55 L410.54,1071.74 L410.75,1067.88 L410.96,1063.98 L411.17,1060.04 L411.38,1056.06 L411.59,1052.06 L411.8,1048.03 L412.02,1043.97 L412.23,1039.9 L412.44,1035.81 L412.65,1031.71 L412.86,1027.61 L413.07,1023.5 L413.28,1019.4 L413.49,1015.3 L413.7,1011.21 L413.92,1007.13 L414.13,1003.07 L414.34,999.04 L414.55,995.02 L414.76,991.04 L414.97,987.1 L415.18,983.19 L415.39,979.32 L415.6,975.49 L415.82,971.72 L416.03,968 L416.24,964.33 L416.45,960.73 L416.66,957.19 L416.87,953.71 L417.08,950.31 L417.29,946.98 L417.5,943.72 L417.72,940.55 L417.93,937.46 L418.14,934.46 L418.35,931.55 L418.56,928.73 L418.77,926 L418.98,923.37 L419.19,920.85 L419.4,918.42 L419.62,916.1 L419.83,913.89 L420.04,911.79 L420.25,909.8 L420.46,907.92 L420.67,906.16 L420.88,904.52 L421.09,903 L421.3,901.59 L421.52,900.31 L421.73,899.15 L421.94,898.12 L422.15,897.21 L422.36,896.43 L422.57,895.77 L422.78,895.24 L422.99,894.85 L423.2,894.57 L423.41,894.43 L423.63,894.42 L423.84,894.54 L424.05,894.78 L424.26,895.15 L424.47,895.66 L424.68,896.29 L424.89,897.04 L425.1,897.93 L425.31,898.94 L425.53,900.07 L425.74,901.33 L425.95,902.7 L426.16,904.2 L426.37,905.82 L426.58,907.56 L426.79,909.41 L427,911.38 L427.21,913.46 L427.43,915.65 L427.64,917.95 L427.85,920.35 L428.06,922.86 L428.27,925.47 L428.48,928.17 L428.69,930.98 L428.9,933.87 L429.11,936.86 L429.33,939.93 L429.54,943.08 L429.75,946.32 L429.96,949.64 L430.17,953.03 L430.38,956.49 L430.59,960.01 L430.8,963.61 L431.01,967.26 L431.23,970.97 L431.44,974.74 L431.65,978.55 L431.86,982.41 L432.07,986.31 L432.28,990.25 L432.49,994.23 L432.7,998.23 L432.91,1002.26 L433.13,1006.32 L433.34,1010.39 L433.55,1014.48 L433.76,1018.58 L433.97,1022.68 L434.18,1026.79 L434.39,1030.89 L434.6,1034.99 L434.81,1039.08 L435.03,1043.16 L435.24,1047.22 L435.45,1051.25 L435.66,1055.26 L435.87,1059.25 L436.08,1063.19 L436.29,1067.1 L436.5,1070.97 L436.71,1074.79 L436.93,1078.57 L437.14,1082.29 L437.35,1085.96 L437.56,1089.56 L437.77,1093.1 L437.98,1096.58 L438.19,1099.98 L438.4,1103.31 L438.61,1106.56 L438.83,1109.74 L439.04,1112.83 L439.25,1115.83 L439.46,1118.74 L439.67,1121.56 L439.88,1124.29 L440.09,1126.92 L440.3,1129.44 L440.51,1131.87 L440.73,1134.19 L440.94,1136.4 L441.15,1138.5 L441.36,1140.49 L441.57,1142.37 L441.78,1144.13 L441.99,1145.77 L442.2,1147.29 L442.41,1148.7 L442.62,1149.98 L442.84,1151.14 L443.05,1152.17 L443.26,1153.08 L443.47,1153.86 L443.68,1154.52 L443.89,1155.04 L444.1,1155.44 L444.31,1155.71 L444.52,1155.86 L444.74,1155.87 L444.95,1155.75 L445.16,1155.51 L445.37,1155.13 L445.58,1154.63 L445.79,1154 L446,1153.25 L446.21,1152.36 L446.42,1151.35 L446.64,1150.22 L446.85,1148.96 L447.06,1147.58 L447.27,1146.08 L447.48,1144.47 L447.69,1142.73 L447.9,1140.88 L448.11,1138.91 L448.32,1136.83 L448.54,1134.64 L448.75,1132.34 L448.96,1129.94 L449.17,1127.43 L449.38,1124.82 L449.59,1122.12 L449.8,1119.31 L450.01,1116.42 L450.22,1113.43 L450.44,1110.36 L450.65,1107.21 L450.86,1103.97 L451.07,1100.65 L451.28,1097.26 L451.49,1093.8 L451.7,1090.27 L451.91,1086.68 L452.12,1083.03 L452.34,1079.32 L452.55,1075.55 L452.76,1071.74 L452.97,1067.88 L453.18,1063.98 L453.39,1060.04 L453.6,1056.06 L453.81,1052.06 L454.02,1048.03 L454.24,1043.97 L454.45,1039.9 L454.66,1035.81 L454.87,1031.71 L455.08,1027.61 L455.29,1023.5 L455.5,1019.4 L455.71,1015.3 L455.92,1011.21 L456.14,1007.13 L456.35,1003.07 L456.56,999.04 L456.77,995.02 L456.98,991.04 L457.19,987.1 L457.4,983.19 L457.61,979.32 L457.82,975.49 L458.04,971.72 L458.25,968 L458.46,964.33 L458.67,960.73 L458.88,957.19 L459.09,953.71 L459.3,950.31 L459.51,946.98 L459.72,943.72 L459.94,940.55 L460.15,937.46 L460.36,934.46 L460.57,931.55 L460.78,928.73 L460.99,926 L461.2,923.37 L461.41,920.85 L461.62,918.42 L461.84,916.1 L462.05,913.89 L462.26,911.79 L462.47,909.8 L462.68,907.92 L462.89,906.16 L463.1,904.52 L463.31,903 L463.52,901.59 L463.73,900.31 L463.95,899.15 L464.16,898.12 L464.37,897.21 L464.58,896.43 L464.79,895.77 L465,895.24 L465.21,894.85 L465.42,894.57 L465.63,894.43 L465.85,894.42 L466.06,894.54 L466.27,894.78 L466.48,895.15 L466.69,895.66 L466.9,896.29 L467.11,897.04 L467.32,897.93 L467.53,898.94 L467.75,900.07 L467.96,901.33 L468.17,902.7 L468.38,904.2 L468.59,905.82 L468.8,907.56 L469.01,909.41 L469.22,911.38 L469.43,913.46 L469.65,915.65 L469.86,917.95 L470.07,920.35 L470.28,922.86 L470.49,925.47 L470.7,928.17 L470.91,930.98 L471.12,933.87 L471.33,936.86 L471.55,939.93 L471.76,943.08 L471.97,946.32 L472.18,949.64 L472.39,953.03 L472.6,956.49 L472.81,960.01 L473.02,963.61 L473.23,967.26 L473.45,970.97 L473.66,974.74 L473.87,978.55 L474.08,982.41 L474.29,986.31 L474.5,990.25 L474.71,994.23 L474.92,998.23 L475.13,1002.26 L475.35,1006.32 L475.56,1010.39 L475.77,1014.48 L475.98,1018.58 L476.19,1022.68 L476.4,1026.79 L476.61,1030.89 L476.82,1034.99 L477.03,1039.08 L477.25,1043.16 L477.46,1047.22 L477.67,1051.25 L477.88,1055.26 L478.09,1059.25 L478.3,1063.19 L478.51,1067.1 L478.72,1070.97 L478.93,1074.79 L479.15,1078.57 L479.36,1082.29 L479.57,1085.96 L479.78,1089.56 L479.99,1093.1 L480.2,1096.58 L480.41,1099.98 L480.62,1103.31 L480.83,1106.56 L481.05,1109.74 L481.26,1112.83 L481.47,1115.83 L481.68,1118.74 L481.89,1121.56 L482.1,1124.29 L482.31,1126.92 L482.52,1129.44 L482.73,1131.87 L482.95,1134.19 L483.16,1136.4 L483.37,1138.5 L483.58,1140.49 L483.79,1142.37 L484,1144.13 L484.21,1145.77 L484.42,1147.29 L484.63,1148.7 L484.85,1149.98 L485.06,1151.14 L485.27,1152.17 L485.48,1153.08 L485.69,1153.86 L485.9,1154.52 L486.11,1155.04 L486.32,1155.44 L486.53,1155.71 L486.74,1155.86 L486.96,1155.87 L487.17,1155.75 L487.38,1155.51 L487.59,1155.13 L487.8,1154.63 L488.01,1154 L488.22,1153.25 L488.43,1152.36 L488.64,1151.35 L488.86,1150.22 L489.07,1148.96 L489.28,1147.58 L489.49,1146.08 L489.7,1144.47 L489.91,1142.73 L490.12,1140.88 L490.33,1138.91 L490.54,1136.83 L490.76,1134.64 L490.97,1132.34 L491.18,1129.94 L491.39,1127.43 L491.6,1124.82 L491.81,1122.12 L492.02,1119.31 L492.23,1116.42 L492.44,1113.43 L492.66,1110.36 L492.87,1107.21 L493.08,1103.97 L493.29,1100.65 L493.5,1097.26 L493.71,1093.8 L493.92,1090.27 L494.13,1086.68 L494.34,1083.03 L494.56,1079.32 L494.77,1075.55 L494.98,1071.74 L495.19,1067.88 L495.4,1063.98" fill="none" stroke="#E8343C" stroke-width="5.0" stroke-linejoin="round" />
<g fill="#1F5BB0" clip-path="url(#clipC)"><ellipse cx="73.6" cy="1040.75" rx="2.55" ry="3.45"/><ellipse cx="75.53" cy="1063.67" rx="2.55" ry="3.45"/><ellipse cx="77.49" cy="1086.6" rx="2.55" ry="3.45"/><ellipse cx="79.68" cy="1109.48" rx="2.55" ry="3.45"/><ellipse cx="82.74" cy="1132.27" rx="2.55" ry="3.45"/><ellipse cx="89.69" cy="1127.13" rx="2.55" ry="3.45"/><ellipse cx="92.41" cy="1104.3" rx="2.55" ry="3.45"/><ellipse cx="94.53" cy="1081.4" rx="2.55" ry="3.45"/><ellipse cx="96.47" cy="1058.47" rx="2.55" ry="3.45"/><ellipse cx="98.42" cy="1035.55" rx="2.55" ry="3.45"/><ellipse cx="100.58" cy="1012.67" rx="2.55" ry="3.45"/><ellipse cx="103.48" cy="989.85" rx="2.55" ry="3.45"/><ellipse cx="110.48" cy="990.88" rx="2.55" ry="3.45"/><ellipse cx="113.32" cy="1013.71" rx="2.55" ry="3.45"/><ellipse cx="115.46" cy="1036.61" rx="2.55" ry="3.45"/><ellipse cx="117.4" cy="1059.53" rx="2.55" ry="3.45"/><ellipse cx="119.35" cy="1082.44" rx="2.55" ry="3.45"/><ellipse cx="121.47" cy="1105.35" rx="2.55" ry="3.45"/><ellipse cx="124.25" cy="1128.17" rx="2.55" ry="3.45"/><ellipse cx="131.23" cy="1131.24" rx="2.55" ry="3.45"/><ellipse cx="134.21" cy="1108.44" rx="2.55" ry="3.45"/><ellipse cx="136.39" cy="1085.52" rx="2.55" ry="3.45"/><ellipse cx="138.34" cy="1062.61" rx="2.55" ry="3.45"/><ellipse cx="140.28" cy="1039.7" rx="2.55" ry="3.45"/><ellipse cx="142.38" cy="1016.79" rx="2.55" ry="3.45"/><ellipse cx="145.05" cy="993.95" rx="2.55" ry="3.45"/><ellipse cx="151.95" cy="986.79" rx="2.55" ry="3.45"/><ellipse cx="155.1" cy="1009.56" rx="2.55" ry="3.45"/><ellipse cx="157.31" cy="1032.47" rx="2.55" ry="3.45"/><ellipse cx="159.28" cy="1055.37" rx="2.55" ry="3.45"/><ellipse cx="161.21" cy="1078.29" rx="2.55" ry="3.45"/><ellipse cx="163.28" cy="1101.2" rx="2.55" ry="3.45"/><ellipse cx="165.86" cy="1124.05" rx="2.55" ry="3.45"/><ellipse cx="172.61" cy="1135.31" rx="2.55" ry="3.45"/><ellipse cx="175.98" cy="1112.58" rx="2.55" ry="3.45"/><ellipse cx="178.24" cy="1089.67" rx="2.55" ry="3.45"/><ellipse cx="180.21" cy="1066.76" rx="2.55" ry="3.45"/><ellipse cx="182.14" cy="1043.85" rx="2.55" ry="3.45"/><ellipse cx="184.19" cy="1020.93" rx="2.55" ry="3.45"/><ellipse cx="186.7" cy="998.07" rx="2.55" ry="3.45"/><ellipse cx="193.18" cy="982.75" rx="2.55" ry="3.45"/><ellipse cx="196.86" cy="1005.43" rx="2.55" ry="3.45"/><ellipse cx="199.16" cy="1028.32" rx="2.55" ry="3.45"/><ellipse cx="201.15" cy="1051.25" rx="2.55" ry="3.45"/><ellipse cx="203.08" cy="1074.17" rx="2.55" ry="3.45"/><ellipse cx="205.11" cy="1097.06" rx="2.55" ry="3.45"/><ellipse cx="207.54" cy="1119.93" rx="2.55" ry="3.45"/><ellipse cx="213.55" cy="1139.26" rx="2.55" ry="3.45"/><ellipse cx="217.73" cy="1116.7" rx="2.55" ry="3.45"/><ellipse cx="220.08" cy="1093.82" rx="2.55" ry="3.45"/><ellipse cx="222.08" cy="1070.9" rx="2.55" ry="3.45"/><ellipse cx="224.01" cy="1048" rx="2.55" ry="3.45"/><ellipse cx="226.02" cy="1025.09" rx="2.55" ry="3.45"/><ellipse cx="228.4" cy="1002.2" rx="2.55" ry="3.45"/><ellipse cx="233.13" cy="979.88" rx="2.55" ry="3.45"/><ellipse cx="238.59" cy="1001.3" rx="2.55" ry="3.45"/><ellipse cx="241" cy="1024.18" rx="2.55" ry="3.45"/><ellipse cx="243.02" cy="1047.1" rx="2.55" ry="3.45"/><ellipse cx="244.94" cy="1070" rx="2.55" ry="3.45"/><ellipse cx="246.94" cy="1092.92" rx="2.55" ry="3.45"/><ellipse cx="249.26" cy="1115.8" rx="2.55" ry="3.45"/><ellipse cx="253.19" cy="1138.42" rx="2.55" ry="3.45"/><ellipse cx="259.45" cy="1120.83" rx="2.55" ry="3.45"/><ellipse cx="261.91" cy="1097.97" rx="2.55" ry="3.45"/><ellipse cx="263.95" cy="1075.06" rx="2.55" ry="3.45"/><ellipse cx="265.88" cy="1052.13" rx="2.55" ry="3.45"/><ellipse cx="267.86" cy="1029.21" rx="2.55" ry="3.45"/><ellipse cx="270.14" cy="1006.34" rx="2.55" ry="3.45"/><ellipse cx="273.67" cy="983.63" rx="2.55" ry="3.45"/><ellipse cx="280.29" cy="997.18" rx="2.55" ry="3.45"/><ellipse cx="282.82" cy="1020.05" rx="2.55" ry="3.45"/><ellipse cx="284.88" cy="1042.93" rx="2.55" ry="3.45"/><ellipse cx="286.81" cy="1065.86" rx="2.55" ry="3.45"/><ellipse cx="288.79" cy="1088.78" rx="2.55" ry="3.45"/><ellipse cx="291.02" cy="1111.67" rx="2.55" ry="3.45"/><ellipse cx="294.28" cy="1134.42" rx="2.55" ry="3.45"/><ellipse cx="301.11" cy="1124.95" rx="2.55" ry="3.45"/><ellipse cx="303.73" cy="1102.11" rx="2.55" ry="3.45"/><ellipse cx="305.82" cy="1079.2" rx="2.55" ry="3.45"/><ellipse cx="307.75" cy="1056.28" rx="2.55" ry="3.45"/><ellipse cx="309.71" cy="1033.35" rx="2.55" ry="3.45"/><ellipse cx="311.91" cy="1010.47" rx="2.55" ry="3.45"/><ellipse cx="314.97" cy="987.68" rx="2.55" ry="3.45"/><ellipse cx="321.92" cy="993.06" rx="2.55" ry="3.45"/><ellipse cx="324.64" cy="1015.9" rx="2.55" ry="3.45"/><ellipse cx="326.75" cy="1038.79" rx="2.55" ry="3.45"/><ellipse cx="328.69" cy="1061.73" rx="2.55" ry="3.45"/><ellipse cx="330.64" cy="1084.64" rx="2.55" ry="3.45"/><ellipse cx="332.8" cy="1107.53" rx="2.55" ry="3.45"/><ellipse cx="335.71" cy="1130.34" rx="2.55" ry="3.45"/><ellipse cx="342.71" cy="1129.07" rx="2.55" ry="3.45"/><ellipse cx="345.54" cy="1106.24" rx="2.55" ry="3.45"/><ellipse cx="347.68" cy="1083.34" rx="2.55" ry="3.45"/><ellipse cx="349.62" cy="1060.41" rx="2.55" ry="3.45"/><ellipse cx="351.57" cy="1037.51" rx="2.55" ry="3.45"/><ellipse cx="353.7" cy="1014.6" rx="2.55" ry="3.45"/><ellipse cx="356.48" cy="991.78" rx="2.55" ry="3.45"/><ellipse cx="363.46" cy="988.95" rx="2.55" ry="3.45"/><ellipse cx="366.43" cy="1011.75" rx="2.55" ry="3.45"/><ellipse cx="368.61" cy="1034.67" rx="2.55" ry="3.45"/><ellipse cx="370.56" cy="1057.56" rx="2.55" ry="3.45"/><ellipse cx="372.5" cy="1080.5" rx="2.55" ry="3.45"/><ellipse cx="374.6" cy="1103.39" rx="2.55" ry="3.45"/><ellipse cx="377.28" cy="1126.23" rx="2.55" ry="3.45"/><ellipse cx="384.19" cy="1133.16" rx="2.55" ry="3.45"/><ellipse cx="387.32" cy="1110.39" rx="2.55" ry="3.45"/><ellipse cx="389.53" cy="1087.48" rx="2.55" ry="3.45"/><ellipse cx="391.5" cy="1064.57" rx="2.55" ry="3.45"/><ellipse cx="393.43" cy="1041.66" rx="2.55" ry="3.45"/><ellipse cx="395.51" cy="1018.74" rx="2.55" ry="3.45"/><ellipse cx="398.09" cy="995.9" rx="2.55" ry="3.45"/><ellipse cx="404.85" cy="984.87" rx="2.55" ry="3.45"/><ellipse cx="408.21" cy="1007.63" rx="2.55" ry="3.45"/><ellipse cx="410.46" cy="1030.52" rx="2.55" ry="3.45"/><ellipse cx="412.43" cy="1053.43" rx="2.55" ry="3.45"/><ellipse cx="414.36" cy="1076.35" rx="2.55" ry="3.45"/><ellipse cx="416.41" cy="1099.26" rx="2.55" ry="3.45"/><ellipse cx="418.92" cy="1122.11" rx="2.55" ry="3.45"/><ellipse cx="425.43" cy="1137.21" rx="2.55" ry="3.45"/><ellipse cx="429.09" cy="1114.52" rx="2.55" ry="3.45"/><ellipse cx="431.38" cy="1091.63" rx="2.55" ry="3.45"/><ellipse cx="433.37" cy="1068.72" rx="2.55" ry="3.45"/><ellipse cx="435.29" cy="1045.81" rx="2.55" ry="3.45"/><ellipse cx="437.33" cy="1022.88" rx="2.55" ry="3.45"/><ellipse cx="439.77" cy="1000.03" rx="2.55" ry="3.45"/><ellipse cx="445.81" cy="980.91" rx="2.55" ry="3.45"/><ellipse cx="449.96" cy="1003.5" rx="2.55" ry="3.45"/><ellipse cx="452.3" cy="1026.37" rx="2.55" ry="3.45"/><ellipse cx="454.31" cy="1049.29" rx="2.55" ry="3.45"/><ellipse cx="456.23" cy="1072.2" rx="2.55" ry="3.45"/><ellipse cx="458.24" cy="1095.12" rx="2.55" ry="3.45"/><ellipse cx="460.62" cy="1117.99" rx="2.55" ry="3.45"/><ellipse cx="465.44" cy="1140.26" rx="2.55" ry="3.45"/><ellipse cx="470.82" cy="1118.65" rx="2.55" ry="3.45"/><ellipse cx="473.22" cy="1095.78" rx="2.55" ry="3.45"/><ellipse cx="475.24" cy="1072.85" rx="2.55" ry="3.45"/><ellipse cx="477.16" cy="1049.94" rx="2.55" ry="3.45"/><ellipse cx="479.16" cy="1027.03" rx="2.55" ry="3.45"/><ellipse cx="481.49" cy="1004.14" rx="2.55" ry="3.45"/><ellipse cx="485.44" cy="981.54" rx="2.55" ry="3.45"/><ellipse cx="491.67" cy="999.36" rx="2.55" ry="3.45"/><ellipse cx="494.13" cy="1022.23" rx="2.55" ry="3.45"/></g>
</g>
<rect x="73.2" y="854.2" width="422.2" height="340.4" fill="none" stroke="#000" stroke-width="1.8"/>
<line x1="332.4" y1="870.5" x2="376.4" y2="870.5" stroke="#E8343C" stroke-width="4.4" stroke-linecap="round"/>
<text transform="translate(381.4,876.6) scale(1.12,1.0)" font-size="17.2" text-anchor="start" >P</text>
<path d="M404.4,870.5h3.3M429.2,870.5h3.9" stroke="#1F5BB0" stroke-width="4.6" stroke-linecap="round"/>
<text transform="translate(454,876.6) scale(1.12,1.0)" font-size="17.2" text-anchor="start" >AP</text>
</svg>
</body></html>
